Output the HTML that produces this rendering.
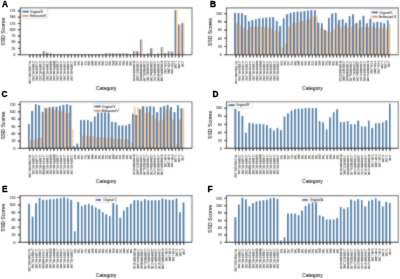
<!DOCTYPE html>
<html><head><meta charset="utf-8"><style>
html,body{margin:0;padding:0;background:#fff;}
body{width:400px;height:279px;overflow:hidden;font-family:"Liberation Sans", sans-serif;}
svg{display:block;font-family:"Liberation Sans", sans-serif;}
</style></head><body>
<svg width="400" height="279" viewBox="0 0 400 279">
<rect width="400" height="279" fill="#fff"/>
<defs><filter id="sf" filterUnits="userSpaceOnUse" x="0" y="0" width="400" height="279"><feConvolveMatrix order="3" kernelMatrix="1 3 1 3 16 3 1 3 1" edgeMode="duplicate" preserveAlpha="true"/></filter></defs>
<g filter="url(#sf)">
<rect width="400" height="279" fill="#fff"/>
<g><rect x="29.04" y="53.95" width="1.35" height="0.75" fill="#4b87bd"/><rect x="29.04" y="53.95" width="0.6" height="0.75" fill="#1f4b74"/><rect x="30.39" y="53.95" width="1.35" height="0.75" fill="#f6c793"/><rect x="32.52" y="53.95" width="1.35" height="0.75" fill="#4b87bd"/><rect x="32.52" y="53.95" width="0.6" height="0.75" fill="#1f4b74"/><rect x="33.87" y="53.95" width="1.35" height="0.75" fill="#f6c793"/><rect x="35.99" y="53.95" width="1.35" height="0.75" fill="#4b87bd"/><rect x="35.99" y="53.95" width="0.6" height="0.75" fill="#1f4b74"/><rect x="37.34" y="53.95" width="1.35" height="0.75" fill="#f6c793"/><rect x="39.46" y="53.95" width="1.35" height="0.75" fill="#4b87bd"/><rect x="39.46" y="53.95" width="0.6" height="0.75" fill="#1f4b74"/><rect x="40.81" y="53.95" width="1.35" height="0.75" fill="#f6c793"/><rect x="42.93" y="50.95" width="1.35" height="3.75" fill="#4b87bd"/><rect x="42.93" y="50.95" width="0.6" height="3.75" fill="#1f4b74"/><rect x="44.28" y="50.95" width="1.35" height="3.75" fill="#f6c793"/><rect x="46.40" y="52.70" width="1.35" height="2.00" fill="#4b87bd"/><rect x="46.40" y="52.70" width="0.6" height="2.00" fill="#1f4b74"/><rect x="47.75" y="52.70" width="1.35" height="2.00" fill="#f6c793"/><rect x="49.87" y="53.45" width="1.35" height="1.25" fill="#4b87bd"/><rect x="49.87" y="53.45" width="0.6" height="1.25" fill="#1f4b74"/><rect x="51.22" y="53.45" width="1.35" height="1.25" fill="#f6c793"/><rect x="53.34" y="53.95" width="1.35" height="0.75" fill="#4b87bd"/><rect x="53.34" y="53.95" width="0.6" height="0.75" fill="#1f4b74"/><rect x="54.69" y="53.95" width="1.35" height="0.75" fill="#f6c793"/><rect x="56.81" y="53.95" width="1.35" height="0.75" fill="#4b87bd"/><rect x="56.81" y="53.95" width="0.6" height="0.75" fill="#1f4b74"/><rect x="58.16" y="53.95" width="1.35" height="0.75" fill="#f6c793"/><rect x="60.28" y="53.95" width="1.35" height="0.75" fill="#4b87bd"/><rect x="60.28" y="53.95" width="0.6" height="0.75" fill="#1f4b74"/><rect x="61.63" y="53.95" width="1.35" height="0.75" fill="#f6c793"/><rect x="63.75" y="53.95" width="1.35" height="0.75" fill="#4b87bd"/><rect x="63.75" y="53.95" width="0.6" height="0.75" fill="#1f4b74"/><rect x="65.10" y="53.95" width="1.35" height="0.75" fill="#f6c793"/><rect x="67.22" y="53.95" width="1.35" height="0.75" fill="#4b87bd"/><rect x="67.22" y="53.95" width="0.6" height="0.75" fill="#1f4b74"/><rect x="68.57" y="53.95" width="1.35" height="0.75" fill="#f6c793"/><rect x="70.69" y="53.95" width="1.35" height="0.75" fill="#4b87bd"/><rect x="70.69" y="53.95" width="0.6" height="0.75" fill="#1f4b74"/><rect x="72.04" y="53.95" width="1.35" height="0.75" fill="#f6c793"/><rect x="74.16" y="53.95" width="1.35" height="0.75" fill="#4b87bd"/><rect x="74.16" y="53.95" width="0.6" height="0.75" fill="#1f4b74"/><rect x="75.51" y="53.95" width="1.35" height="0.75" fill="#f6c793"/><rect x="77.63" y="53.95" width="1.35" height="0.75" fill="#4b87bd"/><rect x="77.63" y="53.95" width="0.6" height="0.75" fill="#1f4b74"/><rect x="78.98" y="53.95" width="1.35" height="0.75" fill="#f6c793"/><rect x="81.11" y="53.95" width="1.35" height="0.75" fill="#4b87bd"/><rect x="81.11" y="53.95" width="0.6" height="0.75" fill="#1f4b74"/><rect x="82.46" y="53.95" width="1.35" height="0.75" fill="#f6c793"/><rect x="84.58" y="53.95" width="1.35" height="0.75" fill="#4b87bd"/><rect x="84.58" y="53.95" width="0.6" height="0.75" fill="#1f4b74"/><rect x="85.93" y="53.95" width="1.35" height="0.75" fill="#f6c793"/><rect x="88.05" y="53.95" width="1.35" height="0.75" fill="#4b87bd"/><rect x="88.05" y="53.95" width="0.6" height="0.75" fill="#1f4b74"/><rect x="89.40" y="53.95" width="1.35" height="0.75" fill="#f6c793"/><rect x="91.52" y="53.95" width="1.35" height="0.75" fill="#4b87bd"/><rect x="91.52" y="53.95" width="0.6" height="0.75" fill="#1f4b74"/><rect x="92.87" y="53.95" width="1.35" height="0.75" fill="#f6c793"/><rect x="94.99" y="53.95" width="1.35" height="0.75" fill="#4b87bd"/><rect x="94.99" y="53.95" width="0.6" height="0.75" fill="#1f4b74"/><rect x="96.34" y="53.95" width="1.35" height="0.75" fill="#f6c793"/><rect x="98.46" y="53.95" width="1.35" height="0.75" fill="#4b87bd"/><rect x="98.46" y="53.95" width="0.6" height="0.75" fill="#1f4b74"/><rect x="99.81" y="53.95" width="1.35" height="0.75" fill="#f6c793"/><rect x="101.93" y="53.95" width="1.35" height="0.75" fill="#4b87bd"/><rect x="101.93" y="53.95" width="0.6" height="0.75" fill="#1f4b74"/><rect x="103.28" y="53.95" width="1.35" height="0.75" fill="#f6c793"/><rect x="105.40" y="53.45" width="1.35" height="1.25" fill="#4b87bd"/><rect x="105.40" y="53.45" width="0.6" height="1.25" fill="#1f4b74"/><rect x="106.75" y="53.45" width="1.35" height="1.25" fill="#f6c793"/><rect x="108.87" y="53.45" width="1.35" height="1.25" fill="#4b87bd"/><rect x="108.87" y="53.45" width="0.6" height="1.25" fill="#1f4b74"/><rect x="110.22" y="53.45" width="1.35" height="1.25" fill="#f6c793"/><rect x="112.34" y="53.45" width="1.35" height="1.25" fill="#4b87bd"/><rect x="112.34" y="53.45" width="0.6" height="1.25" fill="#1f4b74"/><rect x="113.69" y="53.45" width="1.35" height="1.25" fill="#f6c793"/><rect x="115.81" y="53.45" width="1.35" height="1.25" fill="#4b87bd"/><rect x="115.81" y="53.45" width="0.6" height="1.25" fill="#1f4b74"/><rect x="117.16" y="53.45" width="1.35" height="1.25" fill="#f6c793"/><rect x="119.28" y="53.45" width="1.35" height="1.25" fill="#4b87bd"/><rect x="119.28" y="53.45" width="0.6" height="1.25" fill="#1f4b74"/><rect x="120.63" y="53.45" width="1.35" height="1.25" fill="#f6c793"/><rect x="122.75" y="53.45" width="1.35" height="1.25" fill="#4b87bd"/><rect x="122.75" y="53.45" width="0.6" height="1.25" fill="#1f4b74"/><rect x="124.10" y="53.45" width="1.35" height="1.25" fill="#f6c793"/><rect x="126.22" y="53.45" width="1.35" height="1.25" fill="#4b87bd"/><rect x="126.22" y="53.45" width="0.6" height="1.25" fill="#1f4b74"/><rect x="127.57" y="53.45" width="1.35" height="1.25" fill="#f6c793"/><rect x="129.69" y="53.95" width="1.35" height="0.75" fill="#4b87bd"/><rect x="129.69" y="53.95" width="0.6" height="0.75" fill="#1f4b74"/><rect x="131.04" y="53.95" width="1.35" height="0.75" fill="#f6c793"/><rect x="133.17" y="50.95" width="1.35" height="3.75" fill="#4b87bd"/><rect x="133.17" y="50.95" width="0.6" height="3.75" fill="#1f4b74"/><rect x="134.52" y="50.95" width="1.35" height="3.75" fill="#f6c793"/><rect x="136.64" y="51.20" width="1.35" height="3.50" fill="#4b87bd"/><rect x="136.64" y="51.20" width="0.6" height="3.50" fill="#1f4b74"/><rect x="137.99" y="51.20" width="1.35" height="3.50" fill="#f6c793"/><rect x="140.11" y="39.70" width="1.35" height="15.00" fill="#4b87bd"/><rect x="140.11" y="39.70" width="0.6" height="15.00" fill="#1f4b74"/><rect x="141.46" y="39.70" width="1.35" height="15.00" fill="#f6c793"/><rect x="143.58" y="53.95" width="1.35" height="0.75" fill="#4b87bd"/><rect x="143.58" y="53.95" width="0.6" height="0.75" fill="#1f4b74"/><rect x="144.93" y="53.95" width="1.35" height="0.75" fill="#f6c793"/><rect x="147.05" y="53.20" width="1.35" height="1.50" fill="#4b87bd"/><rect x="147.05" y="53.20" width="0.6" height="1.50" fill="#1f4b74"/><rect x="148.40" y="53.20" width="1.35" height="1.50" fill="#f6c793"/><rect x="150.52" y="48.20" width="1.35" height="6.50" fill="#4b87bd"/><rect x="150.52" y="48.20" width="0.6" height="6.50" fill="#1f4b74"/><rect x="151.87" y="48.20" width="1.35" height="6.50" fill="#f6c793"/><rect x="153.99" y="53.95" width="1.35" height="0.75" fill="#4b87bd"/><rect x="153.99" y="53.95" width="0.6" height="0.75" fill="#1f4b74"/><rect x="155.34" y="53.95" width="1.35" height="0.75" fill="#f6c793"/><rect x="157.46" y="53.45" width="1.35" height="1.25" fill="#4b87bd"/><rect x="157.46" y="53.45" width="0.6" height="1.25" fill="#1f4b74"/><rect x="158.81" y="53.45" width="1.35" height="1.25" fill="#f6c793"/><rect x="160.93" y="47.20" width="1.35" height="7.50" fill="#4b87bd"/><rect x="160.93" y="47.20" width="0.6" height="7.50" fill="#1f4b74"/><rect x="162.28" y="47.20" width="1.35" height="7.50" fill="#f6c793"/><rect x="164.40" y="53.20" width="1.35" height="1.50" fill="#4b87bd"/><rect x="164.40" y="53.20" width="0.6" height="1.50" fill="#1f4b74"/><rect x="165.75" y="53.20" width="1.35" height="1.50" fill="#f6c793"/><rect x="167.87" y="51.20" width="1.35" height="3.50" fill="#4b87bd"/><rect x="167.87" y="51.20" width="0.6" height="3.50" fill="#1f4b74"/><rect x="169.22" y="51.20" width="1.35" height="3.50" fill="#f6c793"/><rect x="171.34" y="51.70" width="1.35" height="3.00" fill="#4b87bd"/><rect x="171.34" y="51.70" width="0.6" height="3.00" fill="#1f4b74"/><rect x="172.69" y="51.70" width="1.35" height="3.00" fill="#f6c793"/><rect x="174.81" y="10.20" width="1.35" height="44.50" fill="#4b87bd"/><rect x="174.81" y="10.20" width="0.6" height="44.50" fill="#1f4b74"/><rect x="176.16" y="10.20" width="1.35" height="44.50" fill="#f6c793"/><rect x="178.28" y="24.45" width="1.35" height="30.25" fill="#4b87bd"/><rect x="178.28" y="24.45" width="0.6" height="30.25" fill="#1f4b74"/><rect x="179.63" y="24.45" width="1.35" height="30.25" fill="#f6c793"/><rect x="181.76" y="22.95" width="1.35" height="31.75" fill="#4b87bd"/><rect x="181.76" y="22.95" width="0.6" height="31.75" fill="#1f4b74"/><rect x="183.11" y="22.95" width="1.35" height="31.75" fill="#f6c793"/><path d="M20.20,7.90H192.00V54.70" fill="none" stroke="#777" stroke-width="1.1"/><path d="M20.20,7.70V54.70H192.00" fill="none" stroke="#333" stroke-width="1.1"/><line x1="17.80" y1="54.70" x2="20.20" y2="54.70" stroke="#000" stroke-width="1.0"/><text x="15.30" y="55.90" font-size="3.35" text-anchor="end" fill="#000" stroke="#000" stroke-width="0.05">0</text><line x1="17.80" y1="48.45" x2="20.20" y2="48.45" stroke="#000" stroke-width="1.0"/><text x="15.30" y="49.65" font-size="3.35" text-anchor="end" fill="#000" stroke="#000" stroke-width="0.05">25</text><line x1="17.80" y1="42.20" x2="20.20" y2="42.20" stroke="#000" stroke-width="1.0"/><text x="15.30" y="43.40" font-size="3.35" text-anchor="end" fill="#000" stroke="#000" stroke-width="0.05">50</text><line x1="17.80" y1="35.95" x2="20.20" y2="35.95" stroke="#000" stroke-width="1.0"/><text x="15.30" y="37.15" font-size="3.35" text-anchor="end" fill="#000" stroke="#000" stroke-width="0.05">75</text><line x1="17.80" y1="29.70" x2="20.20" y2="29.70" stroke="#000" stroke-width="1.0"/><text x="15.30" y="30.90" font-size="3.35" text-anchor="end" fill="#000" stroke="#000" stroke-width="0.05">100</text><line x1="17.80" y1="23.45" x2="20.20" y2="23.45" stroke="#000" stroke-width="1.0"/><text x="15.30" y="24.65" font-size="3.35" text-anchor="end" fill="#000" stroke="#000" stroke-width="0.05">125</text><line x1="17.80" y1="17.20" x2="20.20" y2="17.20" stroke="#000" stroke-width="1.0"/><text x="15.30" y="18.40" font-size="3.35" text-anchor="end" fill="#000" stroke="#000" stroke-width="0.05">150</text><line x1="17.80" y1="10.95" x2="20.20" y2="10.95" stroke="#000" stroke-width="1.0"/><text x="15.30" y="12.15" font-size="3.35" text-anchor="end" fill="#000" stroke="#000" stroke-width="0.05">175</text><line x1="29.74" y1="54.70" x2="29.74" y2="57.40" stroke="#000" stroke-width="1.1"/><text transform="translate(30.84,60.70) rotate(-89.9)" font-size="2.85" text-anchor="end" fill="#000" stroke="#000" stroke-width="0.07">2017102-5831741</text><line x1="33.22" y1="54.70" x2="33.22" y2="57.40" stroke="#000" stroke-width="1.1"/><text transform="translate(34.32,60.70) rotate(-89.9)" font-size="2.85" text-anchor="end" fill="#000" stroke="#000" stroke-width="0.07">991710-658317</text><line x1="36.69" y1="54.70" x2="36.69" y2="57.40" stroke="#000" stroke-width="1.1"/><text transform="translate(37.79,60.70) rotate(-89.9)" font-size="2.85" text-anchor="end" fill="#000" stroke="#000" stroke-width="0.07">201710-658717</text><line x1="40.16" y1="54.70" x2="40.16" y2="57.40" stroke="#000" stroke-width="1.1"/><text transform="translate(41.26,60.70) rotate(-89.9)" font-size="2.85" text-anchor="end" fill="#000" stroke="#000" stroke-width="0.07">231710-658317</text><line x1="43.63" y1="54.70" x2="43.63" y2="57.40" stroke="#000" stroke-width="1.1"/><text transform="translate(44.73,60.70) rotate(-89.9)" font-size="2.85" text-anchor="end" fill="#000" stroke="#000" stroke-width="0.07">601950-651417</text><line x1="47.10" y1="54.70" x2="47.10" y2="57.40" stroke="#000" stroke-width="1.1"/><text transform="translate(48.20,60.70) rotate(-89.9)" font-size="2.85" text-anchor="end" fill="#000" stroke="#000" stroke-width="0.07">201710-658317</text><line x1="50.57" y1="54.70" x2="50.57" y2="57.40" stroke="#000" stroke-width="1.1"/><text transform="translate(51.67,60.70) rotate(-89.9)" font-size="2.85" text-anchor="end" fill="#000" stroke="#000" stroke-width="0.07">201710-664362</text><line x1="54.04" y1="54.70" x2="54.04" y2="57.40" stroke="#000" stroke-width="1.1"/><text transform="translate(55.14,60.70) rotate(-89.9)" font-size="2.85" text-anchor="end" fill="#000" stroke="#000" stroke-width="0.07">201720-658380</text><line x1="57.51" y1="54.70" x2="57.51" y2="57.40" stroke="#000" stroke-width="1.1"/><text transform="translate(58.61,60.70) rotate(-89.9)" font-size="2.85" text-anchor="end" fill="#000" stroke="#000" stroke-width="0.07">281710-658317</text><line x1="60.98" y1="54.70" x2="60.98" y2="57.40" stroke="#000" stroke-width="1.1"/><text transform="translate(62.08,60.70) rotate(-89.9)" font-size="2.85" text-anchor="end" fill="#000" stroke="#000" stroke-width="0.07">201719-659317</text><line x1="64.45" y1="54.70" x2="64.45" y2="57.40" stroke="#000" stroke-width="1.1"/><text transform="translate(65.55,60.70) rotate(-89.9)" font-size="2.85" text-anchor="end" fill="#000" stroke="#000" stroke-width="0.07">201710-658517</text><line x1="67.92" y1="54.70" x2="67.92" y2="57.40" stroke="#000" stroke-width="1.1"/><text transform="translate(69.02,60.70) rotate(-89.9)" font-size="2.85" text-anchor="end" fill="#000" stroke="#000" stroke-width="0.07">201710-688317</text><line x1="71.39" y1="54.70" x2="71.39" y2="57.40" stroke="#000" stroke-width="1.1"/><text transform="translate(72.49,60.70) rotate(-89.9)" font-size="2.85" text-anchor="end" fill="#000" stroke="#000" stroke-width="0.07">361710-658317</text><line x1="74.86" y1="54.70" x2="74.86" y2="57.40" stroke="#000" stroke-width="1.1"/><text transform="translate(75.96,60.70) rotate(-89.9)" font-size="2.85" text-anchor="end" fill="#000" stroke="#000" stroke-width="0.07">551</text><line x1="78.33" y1="54.70" x2="78.33" y2="57.40" stroke="#000" stroke-width="1.1"/><text transform="translate(79.43,60.70) rotate(-89.9)" font-size="2.85" text-anchor="end" fill="#000" stroke="#000" stroke-width="0.07">201</text><line x1="81.81" y1="54.70" x2="81.81" y2="57.40" stroke="#000" stroke-width="1.1"/><text transform="translate(82.91,60.70) rotate(-89.9)" font-size="2.85" text-anchor="end" fill="#000" stroke="#000" stroke-width="0.07">297</text><line x1="85.28" y1="54.70" x2="85.28" y2="57.40" stroke="#000" stroke-width="1.1"/><text transform="translate(86.38,60.70) rotate(-89.9)" font-size="2.85" text-anchor="end" fill="#000" stroke="#000" stroke-width="0.07">511</text><line x1="88.75" y1="54.70" x2="88.75" y2="57.40" stroke="#000" stroke-width="1.1"/><text transform="translate(89.85,60.70) rotate(-89.9)" font-size="2.85" text-anchor="end" fill="#000" stroke="#000" stroke-width="0.07">301</text><line x1="92.22" y1="54.70" x2="92.22" y2="57.40" stroke="#000" stroke-width="1.1"/><text transform="translate(93.32,60.70) rotate(-89.9)" font-size="2.85" text-anchor="end" fill="#000" stroke="#000" stroke-width="0.07">506</text><line x1="95.69" y1="54.70" x2="95.69" y2="57.40" stroke="#000" stroke-width="1.1"/><text transform="translate(96.79,60.70) rotate(-89.9)" font-size="2.85" text-anchor="end" fill="#000" stroke="#000" stroke-width="0.07">201</text><line x1="99.16" y1="54.70" x2="99.16" y2="57.40" stroke="#000" stroke-width="1.1"/><text transform="translate(100.26,60.70) rotate(-89.9)" font-size="2.85" text-anchor="end" fill="#000" stroke="#000" stroke-width="0.07">201</text><line x1="102.63" y1="54.70" x2="102.63" y2="57.40" stroke="#000" stroke-width="1.1"/><text transform="translate(103.73,60.70) rotate(-89.9)" font-size="2.85" text-anchor="end" fill="#000" stroke="#000" stroke-width="0.07">201</text><line x1="106.10" y1="54.70" x2="106.10" y2="57.40" stroke="#000" stroke-width="1.1"/><text transform="translate(107.20,60.70) rotate(-89.9)" font-size="2.85" text-anchor="end" fill="#000" stroke="#000" stroke-width="0.07">221</text><line x1="109.57" y1="54.70" x2="109.57" y2="57.40" stroke="#000" stroke-width="1.1"/><text transform="translate(110.67,60.70) rotate(-89.9)" font-size="2.85" text-anchor="end" fill="#000" stroke="#000" stroke-width="0.07">201</text><line x1="113.04" y1="54.70" x2="113.04" y2="57.40" stroke="#000" stroke-width="1.1"/><text transform="translate(114.14,60.70) rotate(-89.9)" font-size="2.85" text-anchor="end" fill="#000" stroke="#000" stroke-width="0.07">263</text><line x1="116.51" y1="54.70" x2="116.51" y2="57.40" stroke="#000" stroke-width="1.1"/><text transform="translate(117.61,60.70) rotate(-89.9)" font-size="2.85" text-anchor="end" fill="#000" stroke="#000" stroke-width="0.07">301</text><line x1="119.98" y1="54.70" x2="119.98" y2="57.40" stroke="#000" stroke-width="1.1"/><text transform="translate(121.08,60.70) rotate(-89.9)" font-size="2.85" text-anchor="end" fill="#000" stroke="#000" stroke-width="0.07">251</text><line x1="123.45" y1="54.70" x2="123.45" y2="57.40" stroke="#000" stroke-width="1.1"/><text transform="translate(124.55,60.70) rotate(-89.9)" font-size="2.85" text-anchor="end" fill="#000" stroke="#000" stroke-width="0.07">205</text><line x1="126.92" y1="54.70" x2="126.92" y2="57.40" stroke="#000" stroke-width="1.1"/><text transform="translate(128.02,60.70) rotate(-89.9)" font-size="2.85" text-anchor="end" fill="#000" stroke="#000" stroke-width="0.07">981</text><line x1="130.39" y1="54.70" x2="130.39" y2="57.40" stroke="#000" stroke-width="1.1"/><text transform="translate(131.49,60.70) rotate(-89.9)" font-size="2.85" text-anchor="end" fill="#000" stroke="#000" stroke-width="0.07">801</text><line x1="133.87" y1="54.70" x2="133.87" y2="57.40" stroke="#000" stroke-width="1.1"/><text transform="translate(134.97,60.70) rotate(-89.9)" font-size="2.85" text-anchor="end" fill="#000" stroke="#000" stroke-width="0.07">2212102658310</text><line x1="137.34" y1="54.70" x2="137.34" y2="57.40" stroke="#000" stroke-width="1.1"/><text transform="translate(138.44,60.70) rotate(-89.9)" font-size="2.85" text-anchor="end" fill="#000" stroke="#000" stroke-width="0.07">2087112658317</text><line x1="140.81" y1="54.70" x2="140.81" y2="57.40" stroke="#000" stroke-width="1.1"/><text transform="translate(141.91,60.70) rotate(-89.9)" font-size="2.85" text-anchor="end" fill="#000" stroke="#000" stroke-width="0.07">2843202658317</text><line x1="144.28" y1="54.70" x2="144.28" y2="57.40" stroke="#000" stroke-width="1.1"/><text transform="translate(145.38,60.70) rotate(-89.9)" font-size="2.85" text-anchor="end" fill="#000" stroke="#000" stroke-width="0.07">5077623658317</text><line x1="147.75" y1="54.70" x2="147.75" y2="57.40" stroke="#000" stroke-width="1.1"/><text transform="translate(148.85,60.70) rotate(-89.9)" font-size="2.85" text-anchor="end" fill="#000" stroke="#000" stroke-width="0.07">2017102653117</text><line x1="151.22" y1="54.70" x2="151.22" y2="57.40" stroke="#000" stroke-width="1.1"/><text transform="translate(152.32,60.70) rotate(-89.9)" font-size="2.85" text-anchor="end" fill="#000" stroke="#000" stroke-width="0.07">2017402658327</text><line x1="154.69" y1="54.70" x2="154.69" y2="57.40" stroke="#000" stroke-width="1.1"/><text transform="translate(155.79,60.70) rotate(-89.9)" font-size="2.85" text-anchor="end" fill="#000" stroke="#000" stroke-width="0.07">2117102664317</text><line x1="158.16" y1="54.70" x2="158.16" y2="57.40" stroke="#000" stroke-width="1.1"/><text transform="translate(159.26,60.70) rotate(-89.9)" font-size="2.85" text-anchor="end" fill="#000" stroke="#000" stroke-width="0.07">2014102654317</text><line x1="161.63" y1="54.70" x2="161.63" y2="57.40" stroke="#000" stroke-width="1.1"/><text transform="translate(162.73,60.70) rotate(-89.9)" font-size="2.85" text-anchor="end" fill="#000" stroke="#000" stroke-width="0.07">8017102858312</text><line x1="165.10" y1="54.70" x2="165.10" y2="57.40" stroke="#000" stroke-width="1.1"/><text transform="translate(166.20,60.70) rotate(-89.9)" font-size="2.85" text-anchor="end" fill="#000" stroke="#000" stroke-width="0.07">2017-02-5</text><line x1="168.57" y1="54.70" x2="168.57" y2="57.40" stroke="#000" stroke-width="1.1"/><text transform="translate(169.67,60.70) rotate(-89.9)" font-size="2.85" text-anchor="end" fill="#000" stroke="#000" stroke-width="0.07">2087-02-5</text><line x1="172.04" y1="54.70" x2="172.04" y2="57.40" stroke="#000" stroke-width="1.1"/><text transform="translate(173.14,60.70) rotate(-89.9)" font-size="2.85" text-anchor="end" fill="#000" stroke="#000" stroke-width="0.07">2017-82-5</text><line x1="175.51" y1="54.70" x2="175.51" y2="57.40" stroke="#000" stroke-width="1.1"/><text transform="translate(176.61,60.70) rotate(-89.9)" font-size="2.85" text-anchor="end" fill="#000" stroke="#000" stroke-width="0.07">30171</text><line x1="178.98" y1="54.70" x2="178.98" y2="57.40" stroke="#000" stroke-width="1.1"/><text transform="translate(180.08,60.70) rotate(-89.9)" font-size="2.85" text-anchor="end" fill="#000" stroke="#000" stroke-width="0.07">20171</text><line x1="182.46" y1="54.70" x2="182.46" y2="57.40" stroke="#000" stroke-width="1.1"/><text transform="translate(183.56,60.70) rotate(-89.9)" font-size="2.85" text-anchor="end" fill="#000" stroke="#000" stroke-width="0.07">2017</text><text x="106.10" y="89.60" font-size="5.1" text-anchor="middle" fill="#000" stroke="#000" stroke-width="0.08">Category</text><text transform="translate(5.30,31.80) rotate(-90)" font-size="5.15" text-anchor="middle" fill="#000" stroke="#000" stroke-width="0.1">SSD Scores</text><rect x="21.4" y="8.7" width="26.10" height="9.60" fill="#fff" fill-opacity="0.9" stroke="#c8c8c8" stroke-width="0.5" rx="0.6"/><rect x="22.50" y="10.75" width="6.2" height="1.7" fill="#1f5f98"/><text x="29.80" y="12.70" font-size="3.1" fill="#111" stroke="#111" stroke-width="0.05">Original K</text><rect x="22.50" y="14.95" width="6.2" height="1.7" fill="#e58a3c"/><text x="29.80" y="16.90" font-size="3.1" fill="#111" stroke="#111" stroke-width="0.05">Enhanced K</text></g>
<g><rect x="234.31" y="12.87" width="1.74" height="41.83" fill="#4b87bd"/><rect x="234.31" y="12.87" width="0.6" height="41.83" fill="#1f4b74"/><rect x="236.04" y="22.71" width="1.74" height="31.99" fill="#f6c793"/><rect x="237.78" y="13.07" width="1.74" height="41.63" fill="#4b87bd"/><rect x="237.78" y="13.07" width="0.6" height="41.63" fill="#1f4b74"/><rect x="239.52" y="24.76" width="1.74" height="29.94" fill="#f6c793"/><rect x="241.25" y="13.07" width="1.74" height="41.63" fill="#4b87bd"/><rect x="241.25" y="13.07" width="0.6" height="41.63" fill="#1f4b74"/><rect x="242.99" y="27.63" width="1.74" height="27.07" fill="#f6c793"/><rect x="244.72" y="15.04" width="1.74" height="39.66" fill="#4b87bd"/><rect x="244.72" y="15.04" width="0.6" height="39.66" fill="#1f4b74"/><rect x="246.46" y="29.68" width="1.74" height="25.02" fill="#f6c793"/><rect x="248.19" y="21.07" width="1.74" height="33.63" fill="#4b87bd"/><rect x="248.19" y="21.07" width="0.6" height="33.63" fill="#1f4b74"/><rect x="249.93" y="26.81" width="1.74" height="27.89" fill="#f6c793"/><rect x="251.66" y="20.04" width="1.74" height="34.66" fill="#4b87bd"/><rect x="251.66" y="20.04" width="0.6" height="34.66" fill="#1f4b74"/><rect x="253.40" y="26.81" width="1.74" height="27.89" fill="#f6c793"/><rect x="255.13" y="19.22" width="1.74" height="35.48" fill="#4b87bd"/><rect x="255.13" y="19.22" width="0.6" height="35.48" fill="#1f4b74"/><rect x="256.87" y="26.81" width="1.74" height="27.89" fill="#f6c793"/><rect x="258.60" y="18.40" width="1.74" height="36.30" fill="#4b87bd"/><rect x="258.60" y="18.40" width="0.6" height="36.30" fill="#1f4b74"/><rect x="260.34" y="26.81" width="1.74" height="27.89" fill="#f6c793"/><rect x="262.07" y="17.99" width="1.74" height="36.71" fill="#4b87bd"/><rect x="262.07" y="17.99" width="0.6" height="36.71" fill="#1f4b74"/><rect x="263.81" y="27.22" width="1.74" height="27.48" fill="#f6c793"/><rect x="265.55" y="17.58" width="1.74" height="37.12" fill="#4b87bd"/><rect x="265.55" y="17.58" width="0.6" height="37.12" fill="#1f4b74"/><rect x="267.28" y="27.63" width="1.74" height="27.07" fill="#f6c793"/><rect x="269.02" y="17.17" width="1.74" height="37.53" fill="#4b87bd"/><rect x="269.02" y="17.17" width="0.6" height="37.53" fill="#1f4b74"/><rect x="270.75" y="28.45" width="1.74" height="26.25" fill="#f6c793"/><rect x="272.49" y="17.17" width="1.74" height="37.53" fill="#4b87bd"/><rect x="272.49" y="17.17" width="0.6" height="37.53" fill="#1f4b74"/><rect x="274.22" y="30.09" width="1.74" height="24.61" fill="#f6c793"/><rect x="275.96" y="21.07" width="1.74" height="33.63" fill="#4b87bd"/><rect x="275.96" y="21.07" width="0.6" height="33.63" fill="#1f4b74"/><rect x="277.69" y="31.73" width="1.74" height="22.97" fill="#f6c793"/><rect x="279.43" y="25.99" width="1.74" height="28.71" fill="#4b87bd"/><rect x="279.43" y="25.99" width="0.6" height="28.71" fill="#1f4b74"/><rect x="281.16" y="47.73" width="1.74" height="6.97" fill="#f6c793"/><rect x="282.90" y="18.40" width="1.74" height="36.30" fill="#4b87bd"/><rect x="282.90" y="18.40" width="0.6" height="36.30" fill="#1f4b74"/><rect x="284.63" y="43.63" width="1.74" height="11.07" fill="#f6c793"/><rect x="286.37" y="14.10" width="1.74" height="40.60" fill="#4b87bd"/><rect x="286.37" y="14.10" width="0.6" height="40.60" fill="#1f4b74"/><rect x="288.11" y="26.81" width="1.74" height="27.89" fill="#f6c793"/><rect x="289.84" y="12.87" width="1.74" height="41.83" fill="#4b87bd"/><rect x="289.84" y="12.87" width="0.6" height="41.83" fill="#1f4b74"/><rect x="291.58" y="23.53" width="1.74" height="31.17" fill="#f6c793"/><rect x="293.31" y="12.05" width="1.74" height="42.65" fill="#4b87bd"/><rect x="293.31" y="12.05" width="0.6" height="42.65" fill="#1f4b74"/><rect x="295.05" y="22.71" width="1.74" height="31.99" fill="#f6c793"/><rect x="296.78" y="11.64" width="1.74" height="43.06" fill="#4b87bd"/><rect x="296.78" y="11.64" width="0.6" height="43.06" fill="#1f4b74"/><rect x="298.52" y="21.89" width="1.74" height="32.81" fill="#f6c793"/><rect x="300.25" y="11.64" width="1.74" height="43.06" fill="#4b87bd"/><rect x="300.25" y="11.64" width="0.6" height="43.06" fill="#1f4b74"/><rect x="301.99" y="21.07" width="1.74" height="33.63" fill="#f6c793"/><rect x="303.72" y="11.02" width="1.74" height="43.68" fill="#4b87bd"/><rect x="303.72" y="11.02" width="0.6" height="43.68" fill="#1f4b74"/><rect x="305.46" y="19.84" width="1.74" height="34.86" fill="#f6c793"/><rect x="307.19" y="10.61" width="1.74" height="44.09" fill="#4b87bd"/><rect x="307.19" y="10.61" width="0.6" height="44.09" fill="#1f4b74"/><rect x="308.93" y="18.61" width="1.74" height="36.09" fill="#f6c793"/><rect x="310.66" y="10.20" width="1.74" height="44.50" fill="#4b87bd"/><rect x="310.66" y="10.20" width="0.6" height="44.50" fill="#1f4b74"/><rect x="312.40" y="16.56" width="1.74" height="38.14" fill="#f6c793"/><rect x="314.14" y="10.20" width="1.74" height="44.50" fill="#4b87bd"/><rect x="314.14" y="10.20" width="0.6" height="44.50" fill="#1f4b74"/><rect x="315.87" y="16.15" width="1.74" height="38.55" fill="#f6c793"/><rect x="317.61" y="22.71" width="1.74" height="31.99" fill="#4b87bd"/><rect x="317.61" y="22.71" width="0.6" height="31.99" fill="#1f4b74"/><rect x="319.34" y="28.25" width="1.74" height="26.45" fill="#f6c793"/><rect x="321.08" y="23.24" width="1.74" height="31.46" fill="#4b87bd"/><rect x="321.08" y="23.24" width="0.6" height="31.46" fill="#1f4b74"/><rect x="322.81" y="28.86" width="1.74" height="25.84" fill="#f6c793"/><rect x="324.55" y="30.09" width="1.74" height="24.61" fill="#4b87bd"/><rect x="324.55" y="30.09" width="0.6" height="24.61" fill="#1f4b74"/><rect x="326.28" y="30.99" width="1.74" height="23.71" fill="#f6c793"/><rect x="328.02" y="17.79" width="1.74" height="36.91" fill="#4b87bd"/><rect x="328.02" y="17.79" width="0.6" height="36.91" fill="#1f4b74"/><rect x="329.75" y="31.98" width="1.74" height="22.72" fill="#f6c793"/><rect x="331.49" y="13.40" width="1.74" height="41.30" fill="#4b87bd"/><rect x="331.49" y="13.40" width="0.6" height="41.30" fill="#1f4b74"/><rect x="333.22" y="29.27" width="1.74" height="25.43" fill="#f6c793"/><rect x="334.96" y="12.87" width="1.74" height="41.83" fill="#4b87bd"/><rect x="334.96" y="12.87" width="0.6" height="41.83" fill="#1f4b74"/><rect x="336.69" y="23.53" width="1.74" height="31.17" fill="#f6c793"/><rect x="338.43" y="19.84" width="1.74" height="34.86" fill="#4b87bd"/><rect x="338.43" y="19.84" width="0.6" height="34.86" fill="#1f4b74"/><rect x="340.17" y="27.22" width="1.74" height="27.48" fill="#f6c793"/><rect x="341.90" y="19.02" width="1.74" height="35.68" fill="#4b87bd"/><rect x="341.90" y="19.02" width="0.6" height="35.68" fill="#1f4b74"/><rect x="343.64" y="25.58" width="1.74" height="29.12" fill="#f6c793"/><rect x="345.37" y="22.71" width="1.74" height="31.99" fill="#4b87bd"/><rect x="345.37" y="22.71" width="0.6" height="31.99" fill="#1f4b74"/><rect x="347.11" y="27.22" width="1.74" height="27.48" fill="#f6c793"/><rect x="348.84" y="16.15" width="1.74" height="38.55" fill="#4b87bd"/><rect x="348.84" y="16.15" width="0.6" height="38.55" fill="#1f4b74"/><rect x="350.58" y="26.81" width="1.74" height="27.89" fill="#f6c793"/><rect x="352.31" y="14.30" width="1.74" height="40.40" fill="#4b87bd"/><rect x="352.31" y="14.30" width="0.6" height="40.40" fill="#1f4b74"/><rect x="354.05" y="23.94" width="1.74" height="30.76" fill="#f6c793"/><rect x="355.78" y="22.87" width="1.74" height="31.83" fill="#4b87bd"/><rect x="355.78" y="22.87" width="0.6" height="31.83" fill="#1f4b74"/><rect x="357.52" y="28.04" width="1.74" height="26.66" fill="#f6c793"/><rect x="359.25" y="20.09" width="1.74" height="34.61" fill="#4b87bd"/><rect x="359.25" y="20.09" width="0.6" height="34.61" fill="#1f4b74"/><rect x="360.99" y="27.22" width="1.74" height="27.48" fill="#f6c793"/><rect x="362.73" y="15.74" width="1.74" height="38.96" fill="#4b87bd"/><rect x="362.73" y="15.74" width="0.6" height="38.96" fill="#1f4b74"/><rect x="364.46" y="26.81" width="1.74" height="27.89" fill="#f6c793"/><rect x="366.20" y="23.28" width="1.74" height="31.42" fill="#4b87bd"/><rect x="366.20" y="23.28" width="0.6" height="31.42" fill="#1f4b74"/><rect x="367.93" y="27.22" width="1.74" height="27.48" fill="#f6c793"/><rect x="369.67" y="18.77" width="1.74" height="35.93" fill="#4b87bd"/><rect x="369.67" y="18.77" width="0.6" height="35.93" fill="#1f4b74"/><rect x="371.40" y="26.40" width="1.74" height="28.30" fill="#f6c793"/><rect x="373.14" y="22.59" width="1.74" height="32.11" fill="#4b87bd"/><rect x="373.14" y="22.59" width="0.6" height="32.11" fill="#1f4b74"/><rect x="374.87" y="28.04" width="1.74" height="26.66" fill="#f6c793"/><rect x="376.61" y="21.81" width="1.74" height="32.89" fill="#4b87bd"/><rect x="376.61" y="21.81" width="0.6" height="32.89" fill="#1f4b74"/><rect x="378.34" y="28.04" width="1.74" height="26.66" fill="#f6c793"/><rect x="380.08" y="22.38" width="1.74" height="32.32" fill="#4b87bd"/><rect x="380.08" y="22.38" width="0.6" height="32.32" fill="#1f4b74"/><rect x="381.81" y="28.04" width="1.74" height="26.66" fill="#f6c793"/><rect x="383.55" y="23.28" width="1.74" height="31.42" fill="#4b87bd"/><rect x="383.55" y="23.28" width="0.6" height="31.42" fill="#1f4b74"/><rect x="385.28" y="28.45" width="1.74" height="26.25" fill="#f6c793"/><rect x="387.02" y="20.29" width="1.74" height="34.41" fill="#4b87bd"/><rect x="387.02" y="20.29" width="0.6" height="34.41" fill="#1f4b74"/><rect x="388.76" y="23.94" width="1.74" height="30.76" fill="#f6c793"/><path d="M226.50,7.90H398.30V54.70" fill="none" stroke="#777" stroke-width="1.1"/><path d="M226.50,7.70V54.70H398.30" fill="none" stroke="#333" stroke-width="1.1"/><line x1="224.10" y1="54.70" x2="226.50" y2="54.70" stroke="#000" stroke-width="1.0"/><text x="221.60" y="55.90" font-size="3.35" text-anchor="end" fill="#000" stroke="#000" stroke-width="0.05">0</text><line x1="224.10" y1="46.50" x2="226.50" y2="46.50" stroke="#000" stroke-width="1.0"/><text x="221.60" y="47.70" font-size="3.35" text-anchor="end" fill="#000" stroke="#000" stroke-width="0.05">20</text><line x1="224.10" y1="38.30" x2="226.50" y2="38.30" stroke="#000" stroke-width="1.0"/><text x="221.60" y="39.50" font-size="3.35" text-anchor="end" fill="#000" stroke="#000" stroke-width="0.05">40</text><line x1="224.10" y1="30.09" x2="226.50" y2="30.09" stroke="#000" stroke-width="1.0"/><text x="221.60" y="31.29" font-size="3.35" text-anchor="end" fill="#000" stroke="#000" stroke-width="0.05">60</text><line x1="224.10" y1="21.89" x2="226.50" y2="21.89" stroke="#000" stroke-width="1.0"/><text x="221.60" y="23.09" font-size="3.35" text-anchor="end" fill="#000" stroke="#000" stroke-width="0.05">80</text><line x1="224.10" y1="13.69" x2="226.50" y2="13.69" stroke="#000" stroke-width="1.0"/><text x="221.60" y="14.89" font-size="3.35" text-anchor="end" fill="#000" stroke="#000" stroke-width="0.05">100</text><line x1="236.04" y1="54.70" x2="236.04" y2="57.40" stroke="#000" stroke-width="1.1"/><text transform="translate(237.14,60.70) rotate(-89.9)" font-size="2.85" text-anchor="end" fill="#000" stroke="#000" stroke-width="0.07">2017102-5831741</text><line x1="239.52" y1="54.70" x2="239.52" y2="57.40" stroke="#000" stroke-width="1.1"/><text transform="translate(240.62,60.70) rotate(-89.9)" font-size="2.85" text-anchor="end" fill="#000" stroke="#000" stroke-width="0.07">991710-658317</text><line x1="242.99" y1="54.70" x2="242.99" y2="57.40" stroke="#000" stroke-width="1.1"/><text transform="translate(244.09,60.70) rotate(-89.9)" font-size="2.85" text-anchor="end" fill="#000" stroke="#000" stroke-width="0.07">201710-658717</text><line x1="246.46" y1="54.70" x2="246.46" y2="57.40" stroke="#000" stroke-width="1.1"/><text transform="translate(247.56,60.70) rotate(-89.9)" font-size="2.85" text-anchor="end" fill="#000" stroke="#000" stroke-width="0.07">231710-658317</text><line x1="249.93" y1="54.70" x2="249.93" y2="57.40" stroke="#000" stroke-width="1.1"/><text transform="translate(251.03,60.70) rotate(-89.9)" font-size="2.85" text-anchor="end" fill="#000" stroke="#000" stroke-width="0.07">601950-651417</text><line x1="253.40" y1="54.70" x2="253.40" y2="57.40" stroke="#000" stroke-width="1.1"/><text transform="translate(254.50,60.70) rotate(-89.9)" font-size="2.85" text-anchor="end" fill="#000" stroke="#000" stroke-width="0.07">201710-658317</text><line x1="256.87" y1="54.70" x2="256.87" y2="57.40" stroke="#000" stroke-width="1.1"/><text transform="translate(257.97,60.70) rotate(-89.9)" font-size="2.85" text-anchor="end" fill="#000" stroke="#000" stroke-width="0.07">201710-664362</text><line x1="260.34" y1="54.70" x2="260.34" y2="57.40" stroke="#000" stroke-width="1.1"/><text transform="translate(261.44,60.70) rotate(-89.9)" font-size="2.85" text-anchor="end" fill="#000" stroke="#000" stroke-width="0.07">201720-658380</text><line x1="263.81" y1="54.70" x2="263.81" y2="57.40" stroke="#000" stroke-width="1.1"/><text transform="translate(264.91,60.70) rotate(-89.9)" font-size="2.85" text-anchor="end" fill="#000" stroke="#000" stroke-width="0.07">281710-658317</text><line x1="267.28" y1="54.70" x2="267.28" y2="57.40" stroke="#000" stroke-width="1.1"/><text transform="translate(268.38,60.70) rotate(-89.9)" font-size="2.85" text-anchor="end" fill="#000" stroke="#000" stroke-width="0.07">201719-659317</text><line x1="270.75" y1="54.70" x2="270.75" y2="57.40" stroke="#000" stroke-width="1.1"/><text transform="translate(271.85,60.70) rotate(-89.9)" font-size="2.85" text-anchor="end" fill="#000" stroke="#000" stroke-width="0.07">201710-658517</text><line x1="274.22" y1="54.70" x2="274.22" y2="57.40" stroke="#000" stroke-width="1.1"/><text transform="translate(275.32,60.70) rotate(-89.9)" font-size="2.85" text-anchor="end" fill="#000" stroke="#000" stroke-width="0.07">201710-688317</text><line x1="277.69" y1="54.70" x2="277.69" y2="57.40" stroke="#000" stroke-width="1.1"/><text transform="translate(278.79,60.70) rotate(-89.9)" font-size="2.85" text-anchor="end" fill="#000" stroke="#000" stroke-width="0.07">361710-658317</text><line x1="281.16" y1="54.70" x2="281.16" y2="57.40" stroke="#000" stroke-width="1.1"/><text transform="translate(282.26,60.70) rotate(-89.9)" font-size="2.85" text-anchor="end" fill="#000" stroke="#000" stroke-width="0.07">551</text><line x1="284.63" y1="54.70" x2="284.63" y2="57.40" stroke="#000" stroke-width="1.1"/><text transform="translate(285.73,60.70) rotate(-89.9)" font-size="2.85" text-anchor="end" fill="#000" stroke="#000" stroke-width="0.07">201</text><line x1="288.11" y1="54.70" x2="288.11" y2="57.40" stroke="#000" stroke-width="1.1"/><text transform="translate(289.21,60.70) rotate(-89.9)" font-size="2.85" text-anchor="end" fill="#000" stroke="#000" stroke-width="0.07">297</text><line x1="291.58" y1="54.70" x2="291.58" y2="57.40" stroke="#000" stroke-width="1.1"/><text transform="translate(292.68,60.70) rotate(-89.9)" font-size="2.85" text-anchor="end" fill="#000" stroke="#000" stroke-width="0.07">511</text><line x1="295.05" y1="54.70" x2="295.05" y2="57.40" stroke="#000" stroke-width="1.1"/><text transform="translate(296.15,60.70) rotate(-89.9)" font-size="2.85" text-anchor="end" fill="#000" stroke="#000" stroke-width="0.07">301</text><line x1="298.52" y1="54.70" x2="298.52" y2="57.40" stroke="#000" stroke-width="1.1"/><text transform="translate(299.62,60.70) rotate(-89.9)" font-size="2.85" text-anchor="end" fill="#000" stroke="#000" stroke-width="0.07">506</text><line x1="301.99" y1="54.70" x2="301.99" y2="57.40" stroke="#000" stroke-width="1.1"/><text transform="translate(303.09,60.70) rotate(-89.9)" font-size="2.85" text-anchor="end" fill="#000" stroke="#000" stroke-width="0.07">201</text><line x1="305.46" y1="54.70" x2="305.46" y2="57.40" stroke="#000" stroke-width="1.1"/><text transform="translate(306.56,60.70) rotate(-89.9)" font-size="2.85" text-anchor="end" fill="#000" stroke="#000" stroke-width="0.07">201</text><line x1="308.93" y1="54.70" x2="308.93" y2="57.40" stroke="#000" stroke-width="1.1"/><text transform="translate(310.03,60.70) rotate(-89.9)" font-size="2.85" text-anchor="end" fill="#000" stroke="#000" stroke-width="0.07">201</text><line x1="312.40" y1="54.70" x2="312.40" y2="57.40" stroke="#000" stroke-width="1.1"/><text transform="translate(313.50,60.70) rotate(-89.9)" font-size="2.85" text-anchor="end" fill="#000" stroke="#000" stroke-width="0.07">221</text><line x1="315.87" y1="54.70" x2="315.87" y2="57.40" stroke="#000" stroke-width="1.1"/><text transform="translate(316.97,60.70) rotate(-89.9)" font-size="2.85" text-anchor="end" fill="#000" stroke="#000" stroke-width="0.07">201</text><line x1="319.34" y1="54.70" x2="319.34" y2="57.40" stroke="#000" stroke-width="1.1"/><text transform="translate(320.44,60.70) rotate(-89.9)" font-size="2.85" text-anchor="end" fill="#000" stroke="#000" stroke-width="0.07">263</text><line x1="322.81" y1="54.70" x2="322.81" y2="57.40" stroke="#000" stroke-width="1.1"/><text transform="translate(323.91,60.70) rotate(-89.9)" font-size="2.85" text-anchor="end" fill="#000" stroke="#000" stroke-width="0.07">301</text><line x1="326.28" y1="54.70" x2="326.28" y2="57.40" stroke="#000" stroke-width="1.1"/><text transform="translate(327.38,60.70) rotate(-89.9)" font-size="2.85" text-anchor="end" fill="#000" stroke="#000" stroke-width="0.07">251</text><line x1="329.75" y1="54.70" x2="329.75" y2="57.40" stroke="#000" stroke-width="1.1"/><text transform="translate(330.85,60.70) rotate(-89.9)" font-size="2.85" text-anchor="end" fill="#000" stroke="#000" stroke-width="0.07">205</text><line x1="333.22" y1="54.70" x2="333.22" y2="57.40" stroke="#000" stroke-width="1.1"/><text transform="translate(334.32,60.70) rotate(-89.9)" font-size="2.85" text-anchor="end" fill="#000" stroke="#000" stroke-width="0.07">981</text><line x1="336.69" y1="54.70" x2="336.69" y2="57.40" stroke="#000" stroke-width="1.1"/><text transform="translate(337.79,60.70) rotate(-89.9)" font-size="2.85" text-anchor="end" fill="#000" stroke="#000" stroke-width="0.07">801</text><line x1="340.17" y1="54.70" x2="340.17" y2="57.40" stroke="#000" stroke-width="1.1"/><text transform="translate(341.27,60.70) rotate(-89.9)" font-size="2.85" text-anchor="end" fill="#000" stroke="#000" stroke-width="0.07">2212102658310</text><line x1="343.64" y1="54.70" x2="343.64" y2="57.40" stroke="#000" stroke-width="1.1"/><text transform="translate(344.74,60.70) rotate(-89.9)" font-size="2.85" text-anchor="end" fill="#000" stroke="#000" stroke-width="0.07">2087112658317</text><line x1="347.11" y1="54.70" x2="347.11" y2="57.40" stroke="#000" stroke-width="1.1"/><text transform="translate(348.21,60.70) rotate(-89.9)" font-size="2.85" text-anchor="end" fill="#000" stroke="#000" stroke-width="0.07">2843202658317</text><line x1="350.58" y1="54.70" x2="350.58" y2="57.40" stroke="#000" stroke-width="1.1"/><text transform="translate(351.68,60.70) rotate(-89.9)" font-size="2.85" text-anchor="end" fill="#000" stroke="#000" stroke-width="0.07">5077623658317</text><line x1="354.05" y1="54.70" x2="354.05" y2="57.40" stroke="#000" stroke-width="1.1"/><text transform="translate(355.15,60.70) rotate(-89.9)" font-size="2.85" text-anchor="end" fill="#000" stroke="#000" stroke-width="0.07">2017102653117</text><line x1="357.52" y1="54.70" x2="357.52" y2="57.40" stroke="#000" stroke-width="1.1"/><text transform="translate(358.62,60.70) rotate(-89.9)" font-size="2.85" text-anchor="end" fill="#000" stroke="#000" stroke-width="0.07">2017402658327</text><line x1="360.99" y1="54.70" x2="360.99" y2="57.40" stroke="#000" stroke-width="1.1"/><text transform="translate(362.09,60.70) rotate(-89.9)" font-size="2.85" text-anchor="end" fill="#000" stroke="#000" stroke-width="0.07">2117102664317</text><line x1="364.46" y1="54.70" x2="364.46" y2="57.40" stroke="#000" stroke-width="1.1"/><text transform="translate(365.56,60.70) rotate(-89.9)" font-size="2.85" text-anchor="end" fill="#000" stroke="#000" stroke-width="0.07">2014102654317</text><line x1="367.93" y1="54.70" x2="367.93" y2="57.40" stroke="#000" stroke-width="1.1"/><text transform="translate(369.03,60.70) rotate(-89.9)" font-size="2.85" text-anchor="end" fill="#000" stroke="#000" stroke-width="0.07">8017102858312</text><line x1="371.40" y1="54.70" x2="371.40" y2="57.40" stroke="#000" stroke-width="1.1"/><text transform="translate(372.50,60.70) rotate(-89.9)" font-size="2.85" text-anchor="end" fill="#000" stroke="#000" stroke-width="0.07">2017-02-5</text><line x1="374.87" y1="54.70" x2="374.87" y2="57.40" stroke="#000" stroke-width="1.1"/><text transform="translate(375.97,60.70) rotate(-89.9)" font-size="2.85" text-anchor="end" fill="#000" stroke="#000" stroke-width="0.07">2087-02-5</text><line x1="378.34" y1="54.70" x2="378.34" y2="57.40" stroke="#000" stroke-width="1.1"/><text transform="translate(379.44,60.70) rotate(-89.9)" font-size="2.85" text-anchor="end" fill="#000" stroke="#000" stroke-width="0.07">2017-82-5</text><line x1="381.81" y1="54.70" x2="381.81" y2="57.40" stroke="#000" stroke-width="1.1"/><text transform="translate(382.91,60.70) rotate(-89.9)" font-size="2.85" text-anchor="end" fill="#000" stroke="#000" stroke-width="0.07">30171</text><line x1="385.28" y1="54.70" x2="385.28" y2="57.40" stroke="#000" stroke-width="1.1"/><text transform="translate(386.38,60.70) rotate(-89.9)" font-size="2.85" text-anchor="end" fill="#000" stroke="#000" stroke-width="0.07">20171</text><line x1="388.76" y1="54.70" x2="388.76" y2="57.40" stroke="#000" stroke-width="1.1"/><text transform="translate(389.86,60.70) rotate(-89.9)" font-size="2.85" text-anchor="end" fill="#000" stroke="#000" stroke-width="0.07">2017</text><text x="312.40" y="89.60" font-size="5.1" text-anchor="middle" fill="#000" stroke="#000" stroke-width="0.08">Category</text><text transform="translate(211.60,32.20) rotate(-90)" font-size="5.15" text-anchor="middle" fill="#000" stroke="#000" stroke-width="0.1">SSD Scores</text><rect x="370.7" y="9.5" width="25.30" height="8.40" fill="#fff" fill-opacity="0.9" stroke="#c8c8c8" stroke-width="0.5" rx="0.6"/><rect x="371.80" y="11.55" width="6.2" height="1.7" fill="#1f5f98"/><text x="379.10" y="13.50" font-size="3.1" fill="#111" stroke="#111" stroke-width="0.05">Original K</text><rect x="371.80" y="15.75" width="6.2" height="1.7" fill="#e58a3c"/><text x="379.10" y="17.70" font-size="3.1" fill="#111" stroke="#111" stroke-width="0.05">Enhanced K</text></g>
<g><rect x="28.01" y="123.90" width="1.74" height="24.50" fill="#4b87bd"/><rect x="28.01" y="123.90" width="0.6" height="24.50" fill="#1f4b74"/><rect x="29.74" y="139.62" width="1.74" height="8.78" fill="#f6c793"/><rect x="31.48" y="110.85" width="1.74" height="37.55" fill="#4b87bd"/><rect x="31.48" y="110.85" width="0.6" height="37.55" fill="#1f4b74"/><rect x="33.22" y="139.62" width="1.74" height="8.78" fill="#f6c793"/><rect x="34.95" y="104.16" width="1.74" height="44.24" fill="#4b87bd"/><rect x="34.95" y="104.16" width="0.6" height="44.24" fill="#1f4b74"/><rect x="36.69" y="138.53" width="1.74" height="9.87" fill="#f6c793"/><rect x="38.42" y="105.26" width="1.74" height="43.14" fill="#4b87bd"/><rect x="38.42" y="105.26" width="0.6" height="43.14" fill="#1f4b74"/><rect x="40.16" y="137.43" width="1.74" height="10.97" fill="#f6c793"/><rect x="41.89" y="111.84" width="1.74" height="36.56" fill="#4b87bd"/><rect x="41.89" y="111.84" width="0.6" height="36.56" fill="#1f4b74"/><rect x="43.63" y="107.08" width="1.74" height="41.32" fill="#f6c793"/><rect x="45.36" y="108.18" width="1.74" height="40.22" fill="#4b87bd"/><rect x="45.36" y="108.18" width="0.6" height="40.22" fill="#1f4b74"/><rect x="47.10" y="108.18" width="1.74" height="40.22" fill="#f6c793"/><rect x="48.83" y="107.08" width="1.74" height="41.32" fill="#4b87bd"/><rect x="48.83" y="107.08" width="0.6" height="41.32" fill="#1f4b74"/><rect x="50.57" y="108.91" width="1.74" height="39.49" fill="#f6c793"/><rect x="52.30" y="106.72" width="1.74" height="41.68" fill="#4b87bd"/><rect x="52.30" y="106.72" width="0.6" height="41.68" fill="#1f4b74"/><rect x="54.04" y="109.64" width="1.74" height="38.76" fill="#f6c793"/><rect x="55.77" y="106.72" width="1.74" height="41.68" fill="#4b87bd"/><rect x="55.77" y="106.72" width="0.6" height="41.68" fill="#1f4b74"/><rect x="57.51" y="110.38" width="1.74" height="38.03" fill="#f6c793"/><rect x="59.25" y="105.99" width="1.74" height="42.41" fill="#4b87bd"/><rect x="59.25" y="105.99" width="0.6" height="42.41" fill="#1f4b74"/><rect x="60.98" y="111.11" width="1.74" height="37.29" fill="#f6c793"/><rect x="62.72" y="104.89" width="1.74" height="43.51" fill="#4b87bd"/><rect x="62.72" y="104.89" width="0.6" height="43.51" fill="#1f4b74"/><rect x="64.45" y="112.93" width="1.74" height="35.47" fill="#f6c793"/><rect x="66.19" y="104.16" width="1.74" height="44.24" fill="#4b87bd"/><rect x="66.19" y="104.16" width="0.6" height="44.24" fill="#1f4b74"/><rect x="67.92" y="112.93" width="1.74" height="35.47" fill="#f6c793"/><rect x="69.66" y="105.26" width="1.74" height="43.14" fill="#4b87bd"/><rect x="69.66" y="105.26" width="0.6" height="43.14" fill="#1f4b74"/><rect x="71.39" y="129.39" width="1.74" height="19.01" fill="#f6c793"/><rect x="73.13" y="146.21" width="1.74" height="2.19" fill="#4b87bd"/><rect x="73.13" y="146.21" width="0.6" height="2.19" fill="#1f4b74"/><rect x="74.86" y="147.67" width="1.74" height="0.73" fill="#f6c793"/><rect x="76.60" y="143.65" width="1.74" height="4.75" fill="#4b87bd"/><rect x="76.60" y="143.65" width="0.6" height="4.75" fill="#1f4b74"/><rect x="78.33" y="147.67" width="1.74" height="0.73" fill="#f6c793"/><rect x="80.07" y="119.88" width="1.74" height="28.52" fill="#4b87bd"/><rect x="80.07" y="119.88" width="0.6" height="28.52" fill="#1f4b74"/><rect x="81.81" y="135.75" width="1.74" height="12.65" fill="#f6c793"/><rect x="83.54" y="119.88" width="1.74" height="28.52" fill="#4b87bd"/><rect x="83.54" y="119.88" width="0.6" height="28.52" fill="#1f4b74"/><rect x="85.28" y="135.75" width="1.74" height="12.65" fill="#f6c793"/><rect x="87.01" y="119.88" width="1.74" height="28.52" fill="#4b87bd"/><rect x="87.01" y="119.88" width="0.6" height="28.52" fill="#1f4b74"/><rect x="88.75" y="135.97" width="1.74" height="12.43" fill="#f6c793"/><rect x="90.48" y="121.71" width="1.74" height="26.69" fill="#4b87bd"/><rect x="90.48" y="121.71" width="0.6" height="26.69" fill="#1f4b74"/><rect x="92.22" y="136.33" width="1.74" height="12.07" fill="#f6c793"/><rect x="93.95" y="116.59" width="1.74" height="31.81" fill="#4b87bd"/><rect x="93.95" y="116.59" width="0.6" height="31.81" fill="#1f4b74"/><rect x="95.69" y="137.07" width="1.74" height="11.33" fill="#f6c793"/><rect x="97.42" y="112.57" width="1.74" height="35.83" fill="#4b87bd"/><rect x="97.42" y="112.57" width="0.6" height="35.83" fill="#1f4b74"/><rect x="99.16" y="137.07" width="1.74" height="11.33" fill="#f6c793"/><rect x="100.89" y="112.57" width="1.74" height="35.83" fill="#4b87bd"/><rect x="100.89" y="112.57" width="0.6" height="35.83" fill="#1f4b74"/><rect x="102.63" y="137.43" width="1.74" height="10.97" fill="#f6c793"/><rect x="104.36" y="112.57" width="1.74" height="35.83" fill="#4b87bd"/><rect x="104.36" y="112.57" width="0.6" height="35.83" fill="#1f4b74"/><rect x="106.10" y="137.43" width="1.74" height="10.97" fill="#f6c793"/><rect x="107.84" y="112.57" width="1.74" height="35.83" fill="#4b87bd"/><rect x="107.84" y="112.57" width="0.6" height="35.83" fill="#1f4b74"/><rect x="109.57" y="137.80" width="1.74" height="10.60" fill="#f6c793"/><rect x="111.31" y="121.71" width="1.74" height="26.69" fill="#4b87bd"/><rect x="111.31" y="121.71" width="0.6" height="26.69" fill="#1f4b74"/><rect x="113.04" y="138.53" width="1.74" height="9.87" fill="#f6c793"/><rect x="114.78" y="122.26" width="1.74" height="26.14" fill="#4b87bd"/><rect x="114.78" y="122.26" width="0.6" height="26.14" fill="#1f4b74"/><rect x="116.51" y="138.89" width="1.74" height="9.51" fill="#f6c793"/><rect x="118.25" y="125.48" width="1.74" height="22.92" fill="#4b87bd"/><rect x="118.25" y="125.48" width="0.6" height="22.92" fill="#1f4b74"/><rect x="119.98" y="139.08" width="1.74" height="9.32" fill="#f6c793"/><rect x="121.72" y="125.48" width="1.74" height="22.92" fill="#4b87bd"/><rect x="121.72" y="125.48" width="0.6" height="22.92" fill="#1f4b74"/><rect x="123.45" y="139.08" width="1.74" height="9.32" fill="#f6c793"/><rect x="125.19" y="125.48" width="1.74" height="22.92" fill="#4b87bd"/><rect x="125.19" y="125.48" width="0.6" height="22.92" fill="#1f4b74"/><rect x="126.92" y="139.26" width="1.74" height="9.14" fill="#f6c793"/><rect x="128.66" y="123.90" width="1.74" height="24.50" fill="#4b87bd"/><rect x="128.66" y="123.90" width="0.6" height="24.50" fill="#1f4b74"/><rect x="130.39" y="142.92" width="1.74" height="5.48" fill="#f6c793"/><rect x="132.13" y="113.81" width="1.74" height="34.59" fill="#4b87bd"/><rect x="132.13" y="113.81" width="0.6" height="34.59" fill="#1f4b74"/><rect x="133.87" y="107.08" width="1.74" height="41.32" fill="#f6c793"/><rect x="135.60" y="114.95" width="1.74" height="33.45" fill="#4b87bd"/><rect x="135.60" y="114.95" width="0.6" height="33.45" fill="#1f4b74"/><rect x="137.34" y="107.08" width="1.74" height="41.32" fill="#f6c793"/><rect x="139.07" y="109.28" width="1.74" height="39.12" fill="#4b87bd"/><rect x="139.07" y="109.28" width="0.6" height="39.12" fill="#1f4b74"/><rect x="140.81" y="107.45" width="1.74" height="40.95" fill="#f6c793"/><rect x="142.54" y="105.99" width="1.74" height="42.41" fill="#4b87bd"/><rect x="142.54" y="105.99" width="0.6" height="42.41" fill="#1f4b74"/><rect x="144.28" y="112.57" width="1.74" height="35.83" fill="#f6c793"/><rect x="146.01" y="106.72" width="1.74" height="41.68" fill="#4b87bd"/><rect x="146.01" y="106.72" width="0.6" height="41.68" fill="#1f4b74"/><rect x="147.75" y="112.02" width="1.74" height="36.38" fill="#f6c793"/><rect x="149.48" y="105.99" width="1.74" height="42.41" fill="#4b87bd"/><rect x="149.48" y="105.99" width="0.6" height="42.41" fill="#1f4b74"/><rect x="151.22" y="114.95" width="1.74" height="33.45" fill="#f6c793"/><rect x="152.95" y="106.72" width="1.74" height="41.68" fill="#4b87bd"/><rect x="152.95" y="106.72" width="0.6" height="41.68" fill="#1f4b74"/><rect x="154.69" y="118.42" width="1.74" height="29.98" fill="#f6c793"/><rect x="156.43" y="112.02" width="1.74" height="36.38" fill="#4b87bd"/><rect x="156.43" y="112.02" width="0.6" height="36.38" fill="#1f4b74"/><rect x="158.16" y="120.61" width="1.74" height="27.79" fill="#f6c793"/><rect x="159.90" y="107.08" width="1.74" height="41.32" fill="#4b87bd"/><rect x="159.90" y="107.08" width="0.6" height="41.32" fill="#1f4b74"/><rect x="161.63" y="119.52" width="1.74" height="28.88" fill="#f6c793"/><rect x="163.37" y="105.99" width="1.74" height="42.41" fill="#4b87bd"/><rect x="163.37" y="105.99" width="0.6" height="42.41" fill="#1f4b74"/><rect x="165.10" y="109.28" width="1.74" height="39.12" fill="#f6c793"/><rect x="166.84" y="104.89" width="1.74" height="43.51" fill="#4b87bd"/><rect x="166.84" y="104.89" width="0.6" height="43.51" fill="#1f4b74"/><rect x="168.57" y="109.64" width="1.74" height="38.76" fill="#f6c793"/><rect x="170.31" y="107.08" width="1.74" height="41.32" fill="#4b87bd"/><rect x="170.31" y="107.08" width="0.6" height="41.32" fill="#1f4b74"/><rect x="172.04" y="119.52" width="1.74" height="28.88" fill="#f6c793"/><rect x="173.78" y="112.02" width="1.74" height="36.38" fill="#4b87bd"/><rect x="173.78" y="112.02" width="0.6" height="36.38" fill="#1f4b74"/><rect x="175.51" y="144.01" width="1.74" height="4.39" fill="#f6c793"/><rect x="177.25" y="105.26" width="1.74" height="43.14" fill="#4b87bd"/><rect x="177.25" y="105.26" width="0.6" height="43.14" fill="#1f4b74"/><rect x="178.98" y="119.52" width="1.74" height="28.88" fill="#f6c793"/><rect x="180.72" y="108.18" width="1.74" height="40.22" fill="#4b87bd"/><rect x="180.72" y="108.18" width="0.6" height="40.22" fill="#1f4b74"/><rect x="182.46" y="108.55" width="1.74" height="39.85" fill="#f6c793"/><path d="M20.20,101.80H192.00V148.40" fill="none" stroke="#777" stroke-width="1.1"/><path d="M20.20,101.60V148.40H192.00" fill="none" stroke="#333" stroke-width="1.1"/><line x1="17.80" y1="148.40" x2="20.20" y2="148.40" stroke="#000" stroke-width="1.0"/><text x="15.30" y="149.60" font-size="3.35" text-anchor="end" fill="#000" stroke="#000" stroke-width="0.05">0</text><line x1="17.80" y1="141.09" x2="20.20" y2="141.09" stroke="#000" stroke-width="1.0"/><text x="15.30" y="142.29" font-size="3.35" text-anchor="end" fill="#000" stroke="#000" stroke-width="0.05">20</text><line x1="17.80" y1="133.78" x2="20.20" y2="133.78" stroke="#000" stroke-width="1.0"/><text x="15.30" y="134.97" font-size="3.35" text-anchor="end" fill="#000" stroke="#000" stroke-width="0.05">40</text><line x1="17.80" y1="126.46" x2="20.20" y2="126.46" stroke="#000" stroke-width="1.0"/><text x="15.30" y="127.66" font-size="3.35" text-anchor="end" fill="#000" stroke="#000" stroke-width="0.05">60</text><line x1="17.80" y1="119.15" x2="20.20" y2="119.15" stroke="#000" stroke-width="1.0"/><text x="15.30" y="120.35" font-size="3.35" text-anchor="end" fill="#000" stroke="#000" stroke-width="0.05">80</text><line x1="17.80" y1="111.84" x2="20.20" y2="111.84" stroke="#000" stroke-width="1.0"/><text x="15.30" y="113.04" font-size="3.35" text-anchor="end" fill="#000" stroke="#000" stroke-width="0.05">100</text><line x1="17.80" y1="104.52" x2="20.20" y2="104.52" stroke="#000" stroke-width="1.0"/><text x="15.30" y="105.72" font-size="3.35" text-anchor="end" fill="#000" stroke="#000" stroke-width="0.05">120</text><line x1="29.74" y1="148.40" x2="29.74" y2="151.10" stroke="#000" stroke-width="1.1"/><text transform="translate(30.84,154.40) rotate(-89.9)" font-size="2.85" text-anchor="end" fill="#000" stroke="#000" stroke-width="0.07">2017102-5831741</text><line x1="33.22" y1="148.40" x2="33.22" y2="151.10" stroke="#000" stroke-width="1.1"/><text transform="translate(34.32,154.40) rotate(-89.9)" font-size="2.85" text-anchor="end" fill="#000" stroke="#000" stroke-width="0.07">991710-658317</text><line x1="36.69" y1="148.40" x2="36.69" y2="151.10" stroke="#000" stroke-width="1.1"/><text transform="translate(37.79,154.40) rotate(-89.9)" font-size="2.85" text-anchor="end" fill="#000" stroke="#000" stroke-width="0.07">201710-658717</text><line x1="40.16" y1="148.40" x2="40.16" y2="151.10" stroke="#000" stroke-width="1.1"/><text transform="translate(41.26,154.40) rotate(-89.9)" font-size="2.85" text-anchor="end" fill="#000" stroke="#000" stroke-width="0.07">231710-658317</text><line x1="43.63" y1="148.40" x2="43.63" y2="151.10" stroke="#000" stroke-width="1.1"/><text transform="translate(44.73,154.40) rotate(-89.9)" font-size="2.85" text-anchor="end" fill="#000" stroke="#000" stroke-width="0.07">601950-651417</text><line x1="47.10" y1="148.40" x2="47.10" y2="151.10" stroke="#000" stroke-width="1.1"/><text transform="translate(48.20,154.40) rotate(-89.9)" font-size="2.85" text-anchor="end" fill="#000" stroke="#000" stroke-width="0.07">201710-658317</text><line x1="50.57" y1="148.40" x2="50.57" y2="151.10" stroke="#000" stroke-width="1.1"/><text transform="translate(51.67,154.40) rotate(-89.9)" font-size="2.85" text-anchor="end" fill="#000" stroke="#000" stroke-width="0.07">201710-664362</text><line x1="54.04" y1="148.40" x2="54.04" y2="151.10" stroke="#000" stroke-width="1.1"/><text transform="translate(55.14,154.40) rotate(-89.9)" font-size="2.85" text-anchor="end" fill="#000" stroke="#000" stroke-width="0.07">201720-658380</text><line x1="57.51" y1="148.40" x2="57.51" y2="151.10" stroke="#000" stroke-width="1.1"/><text transform="translate(58.61,154.40) rotate(-89.9)" font-size="2.85" text-anchor="end" fill="#000" stroke="#000" stroke-width="0.07">281710-658317</text><line x1="60.98" y1="148.40" x2="60.98" y2="151.10" stroke="#000" stroke-width="1.1"/><text transform="translate(62.08,154.40) rotate(-89.9)" font-size="2.85" text-anchor="end" fill="#000" stroke="#000" stroke-width="0.07">201719-659317</text><line x1="64.45" y1="148.40" x2="64.45" y2="151.10" stroke="#000" stroke-width="1.1"/><text transform="translate(65.55,154.40) rotate(-89.9)" font-size="2.85" text-anchor="end" fill="#000" stroke="#000" stroke-width="0.07">201710-658517</text><line x1="67.92" y1="148.40" x2="67.92" y2="151.10" stroke="#000" stroke-width="1.1"/><text transform="translate(69.02,154.40) rotate(-89.9)" font-size="2.85" text-anchor="end" fill="#000" stroke="#000" stroke-width="0.07">201710-688317</text><line x1="71.39" y1="148.40" x2="71.39" y2="151.10" stroke="#000" stroke-width="1.1"/><text transform="translate(72.49,154.40) rotate(-89.9)" font-size="2.85" text-anchor="end" fill="#000" stroke="#000" stroke-width="0.07">361710-658317</text><line x1="74.86" y1="148.40" x2="74.86" y2="151.10" stroke="#000" stroke-width="1.1"/><text transform="translate(75.96,154.40) rotate(-89.9)" font-size="2.85" text-anchor="end" fill="#000" stroke="#000" stroke-width="0.07">551</text><line x1="78.33" y1="148.40" x2="78.33" y2="151.10" stroke="#000" stroke-width="1.1"/><text transform="translate(79.43,154.40) rotate(-89.9)" font-size="2.85" text-anchor="end" fill="#000" stroke="#000" stroke-width="0.07">201</text><line x1="81.81" y1="148.40" x2="81.81" y2="151.10" stroke="#000" stroke-width="1.1"/><text transform="translate(82.91,154.40) rotate(-89.9)" font-size="2.85" text-anchor="end" fill="#000" stroke="#000" stroke-width="0.07">297</text><line x1="85.28" y1="148.40" x2="85.28" y2="151.10" stroke="#000" stroke-width="1.1"/><text transform="translate(86.38,154.40) rotate(-89.9)" font-size="2.85" text-anchor="end" fill="#000" stroke="#000" stroke-width="0.07">511</text><line x1="88.75" y1="148.40" x2="88.75" y2="151.10" stroke="#000" stroke-width="1.1"/><text transform="translate(89.85,154.40) rotate(-89.9)" font-size="2.85" text-anchor="end" fill="#000" stroke="#000" stroke-width="0.07">301</text><line x1="92.22" y1="148.40" x2="92.22" y2="151.10" stroke="#000" stroke-width="1.1"/><text transform="translate(93.32,154.40) rotate(-89.9)" font-size="2.85" text-anchor="end" fill="#000" stroke="#000" stroke-width="0.07">506</text><line x1="95.69" y1="148.40" x2="95.69" y2="151.10" stroke="#000" stroke-width="1.1"/><text transform="translate(96.79,154.40) rotate(-89.9)" font-size="2.85" text-anchor="end" fill="#000" stroke="#000" stroke-width="0.07">201</text><line x1="99.16" y1="148.40" x2="99.16" y2="151.10" stroke="#000" stroke-width="1.1"/><text transform="translate(100.26,154.40) rotate(-89.9)" font-size="2.85" text-anchor="end" fill="#000" stroke="#000" stroke-width="0.07">201</text><line x1="102.63" y1="148.40" x2="102.63" y2="151.10" stroke="#000" stroke-width="1.1"/><text transform="translate(103.73,154.40) rotate(-89.9)" font-size="2.85" text-anchor="end" fill="#000" stroke="#000" stroke-width="0.07">201</text><line x1="106.10" y1="148.40" x2="106.10" y2="151.10" stroke="#000" stroke-width="1.1"/><text transform="translate(107.20,154.40) rotate(-89.9)" font-size="2.85" text-anchor="end" fill="#000" stroke="#000" stroke-width="0.07">221</text><line x1="109.57" y1="148.40" x2="109.57" y2="151.10" stroke="#000" stroke-width="1.1"/><text transform="translate(110.67,154.40) rotate(-89.9)" font-size="2.85" text-anchor="end" fill="#000" stroke="#000" stroke-width="0.07">201</text><line x1="113.04" y1="148.40" x2="113.04" y2="151.10" stroke="#000" stroke-width="1.1"/><text transform="translate(114.14,154.40) rotate(-89.9)" font-size="2.85" text-anchor="end" fill="#000" stroke="#000" stroke-width="0.07">263</text><line x1="116.51" y1="148.40" x2="116.51" y2="151.10" stroke="#000" stroke-width="1.1"/><text transform="translate(117.61,154.40) rotate(-89.9)" font-size="2.85" text-anchor="end" fill="#000" stroke="#000" stroke-width="0.07">301</text><line x1="119.98" y1="148.40" x2="119.98" y2="151.10" stroke="#000" stroke-width="1.1"/><text transform="translate(121.08,154.40) rotate(-89.9)" font-size="2.85" text-anchor="end" fill="#000" stroke="#000" stroke-width="0.07">251</text><line x1="123.45" y1="148.40" x2="123.45" y2="151.10" stroke="#000" stroke-width="1.1"/><text transform="translate(124.55,154.40) rotate(-89.9)" font-size="2.85" text-anchor="end" fill="#000" stroke="#000" stroke-width="0.07">205</text><line x1="126.92" y1="148.40" x2="126.92" y2="151.10" stroke="#000" stroke-width="1.1"/><text transform="translate(128.02,154.40) rotate(-89.9)" font-size="2.85" text-anchor="end" fill="#000" stroke="#000" stroke-width="0.07">981</text><line x1="130.39" y1="148.40" x2="130.39" y2="151.10" stroke="#000" stroke-width="1.1"/><text transform="translate(131.49,154.40) rotate(-89.9)" font-size="2.85" text-anchor="end" fill="#000" stroke="#000" stroke-width="0.07">801</text><line x1="133.87" y1="148.40" x2="133.87" y2="151.10" stroke="#000" stroke-width="1.1"/><text transform="translate(134.97,154.40) rotate(-89.9)" font-size="2.85" text-anchor="end" fill="#000" stroke="#000" stroke-width="0.07">2212102658310</text><line x1="137.34" y1="148.40" x2="137.34" y2="151.10" stroke="#000" stroke-width="1.1"/><text transform="translate(138.44,154.40) rotate(-89.9)" font-size="2.85" text-anchor="end" fill="#000" stroke="#000" stroke-width="0.07">2087112658317</text><line x1="140.81" y1="148.40" x2="140.81" y2="151.10" stroke="#000" stroke-width="1.1"/><text transform="translate(141.91,154.40) rotate(-89.9)" font-size="2.85" text-anchor="end" fill="#000" stroke="#000" stroke-width="0.07">2843202658317</text><line x1="144.28" y1="148.40" x2="144.28" y2="151.10" stroke="#000" stroke-width="1.1"/><text transform="translate(145.38,154.40) rotate(-89.9)" font-size="2.85" text-anchor="end" fill="#000" stroke="#000" stroke-width="0.07">5077623658317</text><line x1="147.75" y1="148.40" x2="147.75" y2="151.10" stroke="#000" stroke-width="1.1"/><text transform="translate(148.85,154.40) rotate(-89.9)" font-size="2.85" text-anchor="end" fill="#000" stroke="#000" stroke-width="0.07">2017102653117</text><line x1="151.22" y1="148.40" x2="151.22" y2="151.10" stroke="#000" stroke-width="1.1"/><text transform="translate(152.32,154.40) rotate(-89.9)" font-size="2.85" text-anchor="end" fill="#000" stroke="#000" stroke-width="0.07">2017402658327</text><line x1="154.69" y1="148.40" x2="154.69" y2="151.10" stroke="#000" stroke-width="1.1"/><text transform="translate(155.79,154.40) rotate(-89.9)" font-size="2.85" text-anchor="end" fill="#000" stroke="#000" stroke-width="0.07">2117102664317</text><line x1="158.16" y1="148.40" x2="158.16" y2="151.10" stroke="#000" stroke-width="1.1"/><text transform="translate(159.26,154.40) rotate(-89.9)" font-size="2.85" text-anchor="end" fill="#000" stroke="#000" stroke-width="0.07">2014102654317</text><line x1="161.63" y1="148.40" x2="161.63" y2="151.10" stroke="#000" stroke-width="1.1"/><text transform="translate(162.73,154.40) rotate(-89.9)" font-size="2.85" text-anchor="end" fill="#000" stroke="#000" stroke-width="0.07">8017102858312</text><line x1="165.10" y1="148.40" x2="165.10" y2="151.10" stroke="#000" stroke-width="1.1"/><text transform="translate(166.20,154.40) rotate(-89.9)" font-size="2.85" text-anchor="end" fill="#000" stroke="#000" stroke-width="0.07">2017-02-5</text><line x1="168.57" y1="148.40" x2="168.57" y2="151.10" stroke="#000" stroke-width="1.1"/><text transform="translate(169.67,154.40) rotate(-89.9)" font-size="2.85" text-anchor="end" fill="#000" stroke="#000" stroke-width="0.07">2087-02-5</text><line x1="172.04" y1="148.40" x2="172.04" y2="151.10" stroke="#000" stroke-width="1.1"/><text transform="translate(173.14,154.40) rotate(-89.9)" font-size="2.85" text-anchor="end" fill="#000" stroke="#000" stroke-width="0.07">2017-82-5</text><line x1="175.51" y1="148.40" x2="175.51" y2="151.10" stroke="#000" stroke-width="1.1"/><text transform="translate(176.61,154.40) rotate(-89.9)" font-size="2.85" text-anchor="end" fill="#000" stroke="#000" stroke-width="0.07">30171</text><line x1="178.98" y1="148.40" x2="178.98" y2="151.10" stroke="#000" stroke-width="1.1"/><text transform="translate(180.08,154.40) rotate(-89.9)" font-size="2.85" text-anchor="end" fill="#000" stroke="#000" stroke-width="0.07">20171</text><line x1="182.46" y1="148.40" x2="182.46" y2="151.10" stroke="#000" stroke-width="1.1"/><text transform="translate(183.56,154.40) rotate(-89.9)" font-size="2.85" text-anchor="end" fill="#000" stroke="#000" stroke-width="0.07">2017</text><text x="106.10" y="183.30" font-size="5.1" text-anchor="middle" fill="#000" stroke="#000" stroke-width="0.08">Category</text><text transform="translate(5.30,125.60) rotate(-90)" font-size="5.15" text-anchor="middle" fill="#000" stroke="#000" stroke-width="0.1">SSD Scores</text><rect x="93.4" y="103.6" width="25.90" height="8.10" fill="#fff" fill-opacity="0.9" stroke="#c8c8c8" stroke-width="0.5" rx="0.6"/><rect x="94.50" y="105.65" width="6.2" height="1.7" fill="#1f5f98"/><text x="101.80" y="107.60" font-size="3.1" fill="#111" stroke="#111" stroke-width="0.05">Original V</text><rect x="94.50" y="109.85" width="6.2" height="1.7" fill="#e58a3c"/><text x="101.80" y="111.80" font-size="3.1" fill="#111" stroke="#111" stroke-width="0.05">Enhanced V</text></g>
<g><rect x="234.66" y="109.03" width="1.75" height="39.37" fill="#62a6d6"/><rect x="234.66" y="109.03" width="0.9" height="39.37" fill="#1f4b74"/><rect x="238.17" y="111.24" width="1.75" height="37.16" fill="#62a6d6"/><rect x="238.17" y="111.24" width="0.9" height="37.16" fill="#1f4b74"/><rect x="241.68" y="116.06" width="1.75" height="32.34" fill="#62a6d6"/><rect x="241.68" y="116.06" width="0.9" height="32.34" fill="#1f4b74"/><rect x="245.19" y="132.73" width="1.75" height="15.67" fill="#62a6d6"/><rect x="245.19" y="132.73" width="0.9" height="15.67" fill="#1f4b74"/><rect x="248.70" y="122.89" width="1.75" height="25.51" fill="#62a6d6"/><rect x="248.70" y="122.89" width="0.9" height="25.51" fill="#1f4b74"/><rect x="252.21" y="123.29" width="1.75" height="25.11" fill="#62a6d6"/><rect x="252.21" y="123.29" width="0.9" height="25.11" fill="#1f4b74"/><rect x="255.72" y="123.90" width="1.75" height="24.50" fill="#62a6d6"/><rect x="255.72" y="123.90" width="0.9" height="24.50" fill="#1f4b74"/><rect x="259.23" y="123.90" width="1.75" height="24.50" fill="#62a6d6"/><rect x="259.23" y="123.90" width="0.9" height="24.50" fill="#1f4b74"/><rect x="262.74" y="124.30" width="1.75" height="24.10" fill="#62a6d6"/><rect x="262.74" y="124.30" width="0.9" height="24.10" fill="#1f4b74"/><rect x="266.25" y="125.10" width="1.75" height="23.30" fill="#62a6d6"/><rect x="266.25" y="125.10" width="0.9" height="23.30" fill="#1f4b74"/><rect x="269.76" y="127.91" width="1.75" height="20.49" fill="#62a6d6"/><rect x="269.76" y="127.91" width="0.9" height="20.49" fill="#1f4b74"/><rect x="273.27" y="130.52" width="1.75" height="17.88" fill="#62a6d6"/><rect x="273.27" y="130.52" width="0.9" height="17.88" fill="#1f4b74"/><rect x="276.78" y="127.91" width="1.75" height="20.49" fill="#62a6d6"/><rect x="276.78" y="127.91" width="0.9" height="20.49" fill="#1f4b74"/><rect x="280.29" y="130.12" width="1.75" height="18.28" fill="#62a6d6"/><rect x="280.29" y="130.12" width="0.9" height="18.28" fill="#1f4b74"/><rect x="283.79" y="116.66" width="1.75" height="31.74" fill="#62a6d6"/><rect x="283.79" y="116.66" width="0.9" height="31.74" fill="#1f4b74"/><rect x="287.30" y="113.45" width="1.75" height="34.95" fill="#62a6d6"/><rect x="287.30" y="113.45" width="0.9" height="34.95" fill="#1f4b74"/><rect x="290.81" y="110.64" width="1.75" height="37.76" fill="#62a6d6"/><rect x="290.81" y="110.64" width="0.9" height="37.76" fill="#1f4b74"/><rect x="294.32" y="109.03" width="1.75" height="39.37" fill="#62a6d6"/><rect x="294.32" y="109.03" width="0.9" height="39.37" fill="#1f4b74"/><rect x="297.83" y="108.63" width="1.75" height="39.77" fill="#62a6d6"/><rect x="297.83" y="108.63" width="0.9" height="39.77" fill="#1f4b74"/><rect x="301.34" y="108.63" width="1.75" height="39.77" fill="#62a6d6"/><rect x="301.34" y="108.63" width="0.9" height="39.77" fill="#1f4b74"/><rect x="304.85" y="108.03" width="1.75" height="40.37" fill="#62a6d6"/><rect x="304.85" y="108.03" width="0.9" height="40.37" fill="#1f4b74"/><rect x="308.36" y="108.03" width="1.75" height="40.37" fill="#62a6d6"/><rect x="308.36" y="108.03" width="0.9" height="40.37" fill="#1f4b74"/><rect x="311.87" y="108.03" width="1.75" height="40.37" fill="#62a6d6"/><rect x="311.87" y="108.03" width="0.9" height="40.37" fill="#1f4b74"/><rect x="315.38" y="108.03" width="1.75" height="40.37" fill="#62a6d6"/><rect x="315.38" y="108.03" width="0.9" height="40.37" fill="#1f4b74"/><rect x="318.89" y="121.08" width="1.75" height="27.32" fill="#62a6d6"/><rect x="318.89" y="121.08" width="0.9" height="27.32" fill="#1f4b74"/><rect x="322.40" y="122.41" width="1.75" height="25.99" fill="#62a6d6"/><rect x="322.40" y="122.41" width="0.9" height="25.99" fill="#1f4b74"/><rect x="325.91" y="129.64" width="1.75" height="18.76" fill="#62a6d6"/><rect x="325.91" y="129.64" width="0.9" height="18.76" fill="#1f4b74"/><rect x="329.42" y="117.47" width="1.75" height="30.93" fill="#62a6d6"/><rect x="329.42" y="117.47" width="0.9" height="30.93" fill="#1f4b74"/><rect x="332.93" y="112.25" width="1.75" height="36.15" fill="#62a6d6"/><rect x="332.93" y="112.25" width="0.9" height="36.15" fill="#1f4b74"/><rect x="336.44" y="109.23" width="1.75" height="39.17" fill="#62a6d6"/><rect x="336.44" y="109.23" width="0.9" height="39.17" fill="#1f4b74"/><rect x="339.95" y="122.01" width="1.75" height="26.39" fill="#62a6d6"/><rect x="339.95" y="122.01" width="0.9" height="26.39" fill="#1f4b74"/><rect x="343.46" y="122.01" width="1.75" height="26.39" fill="#62a6d6"/><rect x="343.46" y="122.01" width="0.9" height="26.39" fill="#1f4b74"/><rect x="346.97" y="121.08" width="1.75" height="27.32" fill="#62a6d6"/><rect x="346.97" y="121.08" width="0.9" height="27.32" fill="#1f4b74"/><rect x="350.48" y="124.30" width="1.75" height="24.10" fill="#62a6d6"/><rect x="350.48" y="124.30" width="0.9" height="24.10" fill="#1f4b74"/><rect x="353.99" y="124.30" width="1.75" height="24.10" fill="#62a6d6"/><rect x="353.99" y="124.30" width="0.9" height="24.10" fill="#1f4b74"/><rect x="357.50" y="120.68" width="1.75" height="27.72" fill="#62a6d6"/><rect x="357.50" y="120.68" width="0.9" height="27.72" fill="#1f4b74"/><rect x="361.01" y="126.51" width="1.75" height="21.89" fill="#62a6d6"/><rect x="361.01" y="126.51" width="0.9" height="21.89" fill="#1f4b74"/><rect x="364.52" y="126.51" width="1.75" height="21.89" fill="#62a6d6"/><rect x="364.52" y="126.51" width="0.9" height="21.89" fill="#1f4b74"/><rect x="368.03" y="120.68" width="1.75" height="27.72" fill="#62a6d6"/><rect x="368.03" y="120.68" width="0.9" height="27.72" fill="#1f4b74"/><rect x="371.54" y="127.91" width="1.75" height="20.49" fill="#62a6d6"/><rect x="371.54" y="127.91" width="0.9" height="20.49" fill="#1f4b74"/><rect x="375.05" y="123.29" width="1.75" height="25.11" fill="#62a6d6"/><rect x="375.05" y="123.29" width="0.9" height="25.11" fill="#1f4b74"/><rect x="378.56" y="123.29" width="1.75" height="25.11" fill="#62a6d6"/><rect x="378.56" y="123.29" width="0.9" height="25.11" fill="#1f4b74"/><rect x="382.07" y="122.41" width="1.75" height="25.99" fill="#62a6d6"/><rect x="382.07" y="122.41" width="0.9" height="25.99" fill="#1f4b74"/><rect x="385.58" y="120.28" width="1.75" height="28.12" fill="#62a6d6"/><rect x="385.58" y="120.28" width="0.9" height="28.12" fill="#1f4b74"/><rect x="389.09" y="103.81" width="1.75" height="44.59" fill="#62a6d6"/><rect x="389.09" y="103.81" width="0.9" height="44.59" fill="#1f4b74"/><path d="M226.50,101.80H398.30V148.40" fill="none" stroke="#777" stroke-width="1.1"/><path d="M226.50,101.60V148.40H398.30" fill="none" stroke="#333" stroke-width="1.1"/><line x1="224.10" y1="148.40" x2="226.50" y2="148.40" stroke="#000" stroke-width="1.0"/><text x="221.60" y="149.60" font-size="3.35" text-anchor="end" fill="#000" stroke="#000" stroke-width="0.05">0</text><line x1="224.10" y1="140.37" x2="226.50" y2="140.37" stroke="#000" stroke-width="1.0"/><text x="221.60" y="141.57" font-size="3.35" text-anchor="end" fill="#000" stroke="#000" stroke-width="0.05">20</text><line x1="224.10" y1="132.33" x2="226.50" y2="132.33" stroke="#000" stroke-width="1.0"/><text x="221.60" y="133.53" font-size="3.35" text-anchor="end" fill="#000" stroke="#000" stroke-width="0.05">40</text><line x1="224.10" y1="124.30" x2="226.50" y2="124.30" stroke="#000" stroke-width="1.0"/><text x="221.60" y="125.50" font-size="3.35" text-anchor="end" fill="#000" stroke="#000" stroke-width="0.05">60</text><line x1="224.10" y1="116.26" x2="226.50" y2="116.26" stroke="#000" stroke-width="1.0"/><text x="221.60" y="117.46" font-size="3.35" text-anchor="end" fill="#000" stroke="#000" stroke-width="0.05">80</text><line x1="224.10" y1="108.23" x2="226.50" y2="108.23" stroke="#000" stroke-width="1.0"/><text x="221.60" y="109.43" font-size="3.35" text-anchor="end" fill="#000" stroke="#000" stroke-width="0.05">100</text><line x1="235.54" y1="148.40" x2="235.54" y2="151.10" stroke="#000" stroke-width="1.1"/><text transform="translate(236.64,154.40) rotate(-89.9)" font-size="2.85" text-anchor="end" fill="#000" stroke="#000" stroke-width="0.07">2017102-5831741</text><line x1="239.05" y1="148.40" x2="239.05" y2="151.10" stroke="#000" stroke-width="1.1"/><text transform="translate(240.15,154.40) rotate(-89.9)" font-size="2.85" text-anchor="end" fill="#000" stroke="#000" stroke-width="0.07">991710-658317</text><line x1="242.56" y1="148.40" x2="242.56" y2="151.10" stroke="#000" stroke-width="1.1"/><text transform="translate(243.66,154.40) rotate(-89.9)" font-size="2.85" text-anchor="end" fill="#000" stroke="#000" stroke-width="0.07">201710-658717</text><line x1="246.07" y1="148.40" x2="246.07" y2="151.10" stroke="#000" stroke-width="1.1"/><text transform="translate(247.17,154.40) rotate(-89.9)" font-size="2.85" text-anchor="end" fill="#000" stroke="#000" stroke-width="0.07">231710-658317</text><line x1="249.58" y1="148.40" x2="249.58" y2="151.10" stroke="#000" stroke-width="1.1"/><text transform="translate(250.68,154.40) rotate(-89.9)" font-size="2.85" text-anchor="end" fill="#000" stroke="#000" stroke-width="0.07">601950-651417</text><line x1="253.09" y1="148.40" x2="253.09" y2="151.10" stroke="#000" stroke-width="1.1"/><text transform="translate(254.19,154.40) rotate(-89.9)" font-size="2.85" text-anchor="end" fill="#000" stroke="#000" stroke-width="0.07">201710-658317</text><line x1="256.59" y1="148.40" x2="256.59" y2="151.10" stroke="#000" stroke-width="1.1"/><text transform="translate(257.69,154.40) rotate(-89.9)" font-size="2.85" text-anchor="end" fill="#000" stroke="#000" stroke-width="0.07">201710-664362</text><line x1="260.10" y1="148.40" x2="260.10" y2="151.10" stroke="#000" stroke-width="1.1"/><text transform="translate(261.20,154.40) rotate(-89.9)" font-size="2.85" text-anchor="end" fill="#000" stroke="#000" stroke-width="0.07">201720-658380</text><line x1="263.61" y1="148.40" x2="263.61" y2="151.10" stroke="#000" stroke-width="1.1"/><text transform="translate(264.71,154.40) rotate(-89.9)" font-size="2.85" text-anchor="end" fill="#000" stroke="#000" stroke-width="0.07">281710-658317</text><line x1="267.12" y1="148.40" x2="267.12" y2="151.10" stroke="#000" stroke-width="1.1"/><text transform="translate(268.22,154.40) rotate(-89.9)" font-size="2.85" text-anchor="end" fill="#000" stroke="#000" stroke-width="0.07">201719-659317</text><line x1="270.63" y1="148.40" x2="270.63" y2="151.10" stroke="#000" stroke-width="1.1"/><text transform="translate(271.73,154.40) rotate(-89.9)" font-size="2.85" text-anchor="end" fill="#000" stroke="#000" stroke-width="0.07">201710-658517</text><line x1="274.14" y1="148.40" x2="274.14" y2="151.10" stroke="#000" stroke-width="1.1"/><text transform="translate(275.24,154.40) rotate(-89.9)" font-size="2.85" text-anchor="end" fill="#000" stroke="#000" stroke-width="0.07">201710-688317</text><line x1="277.65" y1="148.40" x2="277.65" y2="151.10" stroke="#000" stroke-width="1.1"/><text transform="translate(278.75,154.40) rotate(-89.9)" font-size="2.85" text-anchor="end" fill="#000" stroke="#000" stroke-width="0.07">361710-658317</text><line x1="281.16" y1="148.40" x2="281.16" y2="151.10" stroke="#000" stroke-width="1.1"/><text transform="translate(282.26,154.40) rotate(-89.9)" font-size="2.85" text-anchor="end" fill="#000" stroke="#000" stroke-width="0.07">551</text><line x1="284.67" y1="148.40" x2="284.67" y2="151.10" stroke="#000" stroke-width="1.1"/><text transform="translate(285.77,154.40) rotate(-89.9)" font-size="2.85" text-anchor="end" fill="#000" stroke="#000" stroke-width="0.07">201</text><line x1="288.18" y1="148.40" x2="288.18" y2="151.10" stroke="#000" stroke-width="1.1"/><text transform="translate(289.28,154.40) rotate(-89.9)" font-size="2.85" text-anchor="end" fill="#000" stroke="#000" stroke-width="0.07">297</text><line x1="291.69" y1="148.40" x2="291.69" y2="151.10" stroke="#000" stroke-width="1.1"/><text transform="translate(292.79,154.40) rotate(-89.9)" font-size="2.85" text-anchor="end" fill="#000" stroke="#000" stroke-width="0.07">511</text><line x1="295.20" y1="148.40" x2="295.20" y2="151.10" stroke="#000" stroke-width="1.1"/><text transform="translate(296.30,154.40) rotate(-89.9)" font-size="2.85" text-anchor="end" fill="#000" stroke="#000" stroke-width="0.07">301</text><line x1="298.71" y1="148.40" x2="298.71" y2="151.10" stroke="#000" stroke-width="1.1"/><text transform="translate(299.81,154.40) rotate(-89.9)" font-size="2.85" text-anchor="end" fill="#000" stroke="#000" stroke-width="0.07">506</text><line x1="302.22" y1="148.40" x2="302.22" y2="151.10" stroke="#000" stroke-width="1.1"/><text transform="translate(303.32,154.40) rotate(-89.9)" font-size="2.85" text-anchor="end" fill="#000" stroke="#000" stroke-width="0.07">201</text><line x1="305.73" y1="148.40" x2="305.73" y2="151.10" stroke="#000" stroke-width="1.1"/><text transform="translate(306.83,154.40) rotate(-89.9)" font-size="2.85" text-anchor="end" fill="#000" stroke="#000" stroke-width="0.07">201</text><line x1="309.24" y1="148.40" x2="309.24" y2="151.10" stroke="#000" stroke-width="1.1"/><text transform="translate(310.34,154.40) rotate(-89.9)" font-size="2.85" text-anchor="end" fill="#000" stroke="#000" stroke-width="0.07">201</text><line x1="312.75" y1="148.40" x2="312.75" y2="151.10" stroke="#000" stroke-width="1.1"/><text transform="translate(313.85,154.40) rotate(-89.9)" font-size="2.85" text-anchor="end" fill="#000" stroke="#000" stroke-width="0.07">221</text><line x1="316.26" y1="148.40" x2="316.26" y2="151.10" stroke="#000" stroke-width="1.1"/><text transform="translate(317.36,154.40) rotate(-89.9)" font-size="2.85" text-anchor="end" fill="#000" stroke="#000" stroke-width="0.07">201</text><line x1="319.77" y1="148.40" x2="319.77" y2="151.10" stroke="#000" stroke-width="1.1"/><text transform="translate(320.87,154.40) rotate(-89.9)" font-size="2.85" text-anchor="end" fill="#000" stroke="#000" stroke-width="0.07">263</text><line x1="323.28" y1="148.40" x2="323.28" y2="151.10" stroke="#000" stroke-width="1.1"/><text transform="translate(324.38,154.40) rotate(-89.9)" font-size="2.85" text-anchor="end" fill="#000" stroke="#000" stroke-width="0.07">301</text><line x1="326.79" y1="148.40" x2="326.79" y2="151.10" stroke="#000" stroke-width="1.1"/><text transform="translate(327.89,154.40) rotate(-89.9)" font-size="2.85" text-anchor="end" fill="#000" stroke="#000" stroke-width="0.07">251</text><line x1="330.30" y1="148.40" x2="330.30" y2="151.10" stroke="#000" stroke-width="1.1"/><text transform="translate(331.40,154.40) rotate(-89.9)" font-size="2.85" text-anchor="end" fill="#000" stroke="#000" stroke-width="0.07">205</text><line x1="333.81" y1="148.40" x2="333.81" y2="151.10" stroke="#000" stroke-width="1.1"/><text transform="translate(334.91,154.40) rotate(-89.9)" font-size="2.85" text-anchor="end" fill="#000" stroke="#000" stroke-width="0.07">981</text><line x1="337.32" y1="148.40" x2="337.32" y2="151.10" stroke="#000" stroke-width="1.1"/><text transform="translate(338.42,154.40) rotate(-89.9)" font-size="2.85" text-anchor="end" fill="#000" stroke="#000" stroke-width="0.07">801</text><line x1="340.83" y1="148.40" x2="340.83" y2="151.10" stroke="#000" stroke-width="1.1"/><text transform="translate(341.93,154.40) rotate(-89.9)" font-size="2.85" text-anchor="end" fill="#000" stroke="#000" stroke-width="0.07">2212102658310</text><line x1="344.34" y1="148.40" x2="344.34" y2="151.10" stroke="#000" stroke-width="1.1"/><text transform="translate(345.44,154.40) rotate(-89.9)" font-size="2.85" text-anchor="end" fill="#000" stroke="#000" stroke-width="0.07">2087112658317</text><line x1="347.85" y1="148.40" x2="347.85" y2="151.10" stroke="#000" stroke-width="1.1"/><text transform="translate(348.95,154.40) rotate(-89.9)" font-size="2.85" text-anchor="end" fill="#000" stroke="#000" stroke-width="0.07">2843202658317</text><line x1="351.36" y1="148.40" x2="351.36" y2="151.10" stroke="#000" stroke-width="1.1"/><text transform="translate(352.46,154.40) rotate(-89.9)" font-size="2.85" text-anchor="end" fill="#000" stroke="#000" stroke-width="0.07">5077623658317</text><line x1="354.87" y1="148.40" x2="354.87" y2="151.10" stroke="#000" stroke-width="1.1"/><text transform="translate(355.97,154.40) rotate(-89.9)" font-size="2.85" text-anchor="end" fill="#000" stroke="#000" stroke-width="0.07">2017102653117</text><line x1="358.38" y1="148.40" x2="358.38" y2="151.10" stroke="#000" stroke-width="1.1"/><text transform="translate(359.48,154.40) rotate(-89.9)" font-size="2.85" text-anchor="end" fill="#000" stroke="#000" stroke-width="0.07">2017402658327</text><line x1="361.89" y1="148.40" x2="361.89" y2="151.10" stroke="#000" stroke-width="1.1"/><text transform="translate(362.99,154.40) rotate(-89.9)" font-size="2.85" text-anchor="end" fill="#000" stroke="#000" stroke-width="0.07">2117102664317</text><line x1="365.40" y1="148.40" x2="365.40" y2="151.10" stroke="#000" stroke-width="1.1"/><text transform="translate(366.50,154.40) rotate(-89.9)" font-size="2.85" text-anchor="end" fill="#000" stroke="#000" stroke-width="0.07">2014102654317</text><line x1="368.91" y1="148.40" x2="368.91" y2="151.10" stroke="#000" stroke-width="1.1"/><text transform="translate(370.01,154.40) rotate(-89.9)" font-size="2.85" text-anchor="end" fill="#000" stroke="#000" stroke-width="0.07">8017102858312</text><line x1="372.41" y1="148.40" x2="372.41" y2="151.10" stroke="#000" stroke-width="1.1"/><text transform="translate(373.51,154.40) rotate(-89.9)" font-size="2.85" text-anchor="end" fill="#000" stroke="#000" stroke-width="0.07">2017-02-5</text><line x1="375.92" y1="148.40" x2="375.92" y2="151.10" stroke="#000" stroke-width="1.1"/><text transform="translate(377.02,154.40) rotate(-89.9)" font-size="2.85" text-anchor="end" fill="#000" stroke="#000" stroke-width="0.07">2087-02-5</text><line x1="379.43" y1="148.40" x2="379.43" y2="151.10" stroke="#000" stroke-width="1.1"/><text transform="translate(380.53,154.40) rotate(-89.9)" font-size="2.85" text-anchor="end" fill="#000" stroke="#000" stroke-width="0.07">2017-82-5</text><line x1="382.94" y1="148.40" x2="382.94" y2="151.10" stroke="#000" stroke-width="1.1"/><text transform="translate(384.04,154.40) rotate(-89.9)" font-size="2.85" text-anchor="end" fill="#000" stroke="#000" stroke-width="0.07">30171</text><line x1="386.45" y1="148.40" x2="386.45" y2="151.10" stroke="#000" stroke-width="1.1"/><text transform="translate(387.55,154.40) rotate(-89.9)" font-size="2.85" text-anchor="end" fill="#000" stroke="#000" stroke-width="0.07">20171</text><line x1="389.96" y1="148.40" x2="389.96" y2="151.10" stroke="#000" stroke-width="1.1"/><text transform="translate(391.06,154.40) rotate(-89.9)" font-size="2.85" text-anchor="end" fill="#000" stroke="#000" stroke-width="0.07">2017</text><text x="312.40" y="183.30" font-size="5.1" text-anchor="middle" fill="#000" stroke="#000" stroke-width="0.08">Category</text><text transform="translate(211.60,125.00) rotate(-90)" font-size="5.15" text-anchor="middle" fill="#000" stroke="#000" stroke-width="0.1">SSD Scores</text><rect x="227.4" y="102.5" width="25.30" height="5.40" fill="#fff" fill-opacity="0.9" stroke="#c8c8c8" stroke-width="0.5" rx="0.6"/><rect x="228.50" y="104.35" width="6.2" height="1.7" fill="#1f5f98"/><text x="235.80" y="106.30" font-size="3.1" fill="#111" stroke="#111" stroke-width="0.05">Original R</text></g>
<g><rect x="28.36" y="203.80" width="1.75" height="38.60" fill="#62a6d6"/><rect x="28.36" y="203.80" width="0.9" height="38.60" fill="#1f4b74"/><rect x="31.87" y="216.65" width="1.75" height="25.75" fill="#62a6d6"/><rect x="31.87" y="216.65" width="0.9" height="25.75" fill="#1f4b74"/><rect x="35.38" y="203.12" width="1.75" height="39.28" fill="#62a6d6"/><rect x="35.38" y="203.12" width="0.9" height="39.28" fill="#1f4b74"/><rect x="38.89" y="198.02" width="1.75" height="44.38" fill="#62a6d6"/><rect x="38.89" y="198.02" width="0.9" height="44.38" fill="#1f4b74"/><rect x="42.40" y="199.82" width="1.75" height="42.58" fill="#62a6d6"/><rect x="42.40" y="199.82" width="0.9" height="42.58" fill="#1f4b74"/><rect x="45.91" y="199.82" width="1.75" height="42.58" fill="#62a6d6"/><rect x="45.91" y="199.82" width="0.9" height="42.58" fill="#1f4b74"/><rect x="49.42" y="199.11" width="1.75" height="43.29" fill="#62a6d6"/><rect x="49.42" y="199.11" width="0.9" height="43.29" fill="#1f4b74"/><rect x="52.93" y="199.11" width="1.75" height="43.29" fill="#62a6d6"/><rect x="52.93" y="199.11" width="0.9" height="43.29" fill="#1f4b74"/><rect x="56.44" y="198.62" width="1.75" height="43.78" fill="#62a6d6"/><rect x="56.44" y="198.62" width="0.9" height="43.78" fill="#1f4b74"/><rect x="59.95" y="198.02" width="1.75" height="44.38" fill="#62a6d6"/><rect x="59.95" y="198.02" width="0.9" height="44.38" fill="#1f4b74"/><rect x="63.46" y="197.50" width="1.75" height="44.90" fill="#62a6d6"/><rect x="63.46" y="197.50" width="0.9" height="44.90" fill="#1f4b74"/><rect x="66.97" y="198.62" width="1.75" height="43.78" fill="#62a6d6"/><rect x="66.97" y="198.62" width="0.9" height="43.78" fill="#1f4b74"/><rect x="70.48" y="199.82" width="1.75" height="42.58" fill="#62a6d6"/><rect x="70.48" y="199.82" width="0.9" height="42.58" fill="#1f4b74"/><rect x="73.99" y="231.38" width="1.75" height="11.02" fill="#62a6d6"/><rect x="73.99" y="231.38" width="0.9" height="11.02" fill="#1f4b74"/><rect x="77.49" y="202.00" width="1.75" height="40.40" fill="#62a6d6"/><rect x="77.49" y="202.00" width="0.9" height="40.40" fill="#1f4b74"/><rect x="81.00" y="206.04" width="1.75" height="36.36" fill="#62a6d6"/><rect x="81.00" y="206.04" width="0.9" height="36.36" fill="#1f4b74"/><rect x="84.51" y="204.73" width="1.75" height="37.67" fill="#62a6d6"/><rect x="84.51" y="204.73" width="0.9" height="37.67" fill="#1f4b74"/><rect x="88.02" y="203.80" width="1.75" height="38.60" fill="#62a6d6"/><rect x="88.02" y="203.80" width="0.9" height="38.60" fill="#1f4b74"/><rect x="91.53" y="205.41" width="1.75" height="36.99" fill="#62a6d6"/><rect x="91.53" y="205.41" width="0.9" height="36.99" fill="#1f4b74"/><rect x="95.04" y="207.62" width="1.75" height="34.78" fill="#62a6d6"/><rect x="95.04" y="207.62" width="0.9" height="34.78" fill="#1f4b74"/><rect x="98.55" y="209.23" width="1.75" height="33.17" fill="#62a6d6"/><rect x="98.55" y="209.23" width="0.9" height="33.17" fill="#1f4b74"/><rect x="102.06" y="212.15" width="1.75" height="30.25" fill="#62a6d6"/><rect x="102.06" y="212.15" width="0.9" height="30.25" fill="#1f4b74"/><rect x="105.57" y="214.44" width="1.75" height="27.96" fill="#62a6d6"/><rect x="105.57" y="214.44" width="0.9" height="27.96" fill="#1f4b74"/><rect x="109.08" y="216.01" width="1.75" height="26.39" fill="#62a6d6"/><rect x="109.08" y="216.01" width="0.9" height="26.39" fill="#1f4b74"/><rect x="112.59" y="203.12" width="1.75" height="39.28" fill="#62a6d6"/><rect x="112.59" y="203.12" width="0.9" height="39.28" fill="#1f4b74"/><rect x="116.10" y="204.73" width="1.75" height="37.67" fill="#62a6d6"/><rect x="116.10" y="204.73" width="0.9" height="37.67" fill="#1f4b74"/><rect x="119.61" y="217.85" width="1.75" height="24.55" fill="#62a6d6"/><rect x="119.61" y="217.85" width="0.9" height="24.55" fill="#1f4b74"/><rect x="123.12" y="210.62" width="1.75" height="31.78" fill="#62a6d6"/><rect x="123.12" y="210.62" width="0.9" height="31.78" fill="#1f4b74"/><rect x="126.63" y="207.02" width="1.75" height="35.38" fill="#62a6d6"/><rect x="126.63" y="207.02" width="0.9" height="35.38" fill="#1f4b74"/><rect x="130.14" y="203.80" width="1.75" height="38.60" fill="#62a6d6"/><rect x="130.14" y="203.80" width="0.9" height="38.60" fill="#1f4b74"/><rect x="133.65" y="200.20" width="1.75" height="42.20" fill="#62a6d6"/><rect x="133.65" y="200.20" width="0.9" height="42.20" fill="#1f4b74"/><rect x="137.16" y="200.20" width="1.75" height="42.20" fill="#62a6d6"/><rect x="137.16" y="200.20" width="0.9" height="42.20" fill="#1f4b74"/><rect x="140.67" y="200.91" width="1.75" height="41.49" fill="#62a6d6"/><rect x="140.67" y="200.91" width="0.9" height="41.49" fill="#1f4b74"/><rect x="144.18" y="199.30" width="1.75" height="43.10" fill="#62a6d6"/><rect x="144.18" y="199.30" width="0.9" height="43.10" fill="#1f4b74"/><rect x="147.69" y="200.20" width="1.75" height="42.20" fill="#62a6d6"/><rect x="147.69" y="200.20" width="0.9" height="42.20" fill="#1f4b74"/><rect x="151.20" y="200.20" width="1.75" height="42.20" fill="#62a6d6"/><rect x="151.20" y="200.20" width="0.9" height="42.20" fill="#1f4b74"/><rect x="154.71" y="200.20" width="1.75" height="42.20" fill="#62a6d6"/><rect x="154.71" y="200.20" width="0.9" height="42.20" fill="#1f4b74"/><rect x="158.22" y="200.20" width="1.75" height="42.20" fill="#62a6d6"/><rect x="158.22" y="200.20" width="0.9" height="42.20" fill="#1f4b74"/><rect x="161.73" y="198.62" width="1.75" height="43.78" fill="#62a6d6"/><rect x="161.73" y="198.62" width="0.9" height="43.78" fill="#1f4b74"/><rect x="165.24" y="199.30" width="1.75" height="43.10" fill="#62a6d6"/><rect x="165.24" y="199.30" width="0.9" height="43.10" fill="#1f4b74"/><rect x="168.75" y="199.82" width="1.75" height="42.58" fill="#62a6d6"/><rect x="168.75" y="199.82" width="0.9" height="42.58" fill="#1f4b74"/><rect x="172.26" y="199.82" width="1.75" height="42.58" fill="#62a6d6"/><rect x="172.26" y="199.82" width="0.9" height="42.58" fill="#1f4b74"/><rect x="175.77" y="198.62" width="1.75" height="43.78" fill="#62a6d6"/><rect x="175.77" y="198.62" width="0.9" height="43.78" fill="#1f4b74"/><rect x="179.28" y="212.15" width="1.75" height="30.25" fill="#62a6d6"/><rect x="179.28" y="212.15" width="0.9" height="30.25" fill="#1f4b74"/><rect x="182.79" y="202.52" width="1.75" height="39.88" fill="#62a6d6"/><rect x="182.79" y="202.52" width="0.9" height="39.88" fill="#1f4b74"/><path d="M20.20,195.60H192.00V242.40" fill="none" stroke="#777" stroke-width="1.1"/><path d="M20.20,195.40V242.40H192.00" fill="none" stroke="#333" stroke-width="1.1"/><line x1="17.80" y1="242.40" x2="20.20" y2="242.40" stroke="#000" stroke-width="1.0"/><text x="15.30" y="243.60" font-size="3.35" text-anchor="end" fill="#000" stroke="#000" stroke-width="0.05">0</text><line x1="17.80" y1="234.90" x2="20.20" y2="234.90" stroke="#000" stroke-width="1.0"/><text x="15.30" y="236.10" font-size="3.35" text-anchor="end" fill="#000" stroke="#000" stroke-width="0.05">20</text><line x1="17.80" y1="227.41" x2="20.20" y2="227.41" stroke="#000" stroke-width="1.0"/><text x="15.30" y="228.61" font-size="3.35" text-anchor="end" fill="#000" stroke="#000" stroke-width="0.05">40</text><line x1="17.80" y1="219.91" x2="20.20" y2="219.91" stroke="#000" stroke-width="1.0"/><text x="15.30" y="221.11" font-size="3.35" text-anchor="end" fill="#000" stroke="#000" stroke-width="0.05">60</text><line x1="17.80" y1="212.42" x2="20.20" y2="212.42" stroke="#000" stroke-width="1.0"/><text x="15.30" y="213.62" font-size="3.35" text-anchor="end" fill="#000" stroke="#000" stroke-width="0.05">80</text><line x1="17.80" y1="204.92" x2="20.20" y2="204.92" stroke="#000" stroke-width="1.0"/><text x="15.30" y="206.12" font-size="3.35" text-anchor="end" fill="#000" stroke="#000" stroke-width="0.05">100</text><line x1="17.80" y1="197.42" x2="20.20" y2="197.42" stroke="#000" stroke-width="1.0"/><text x="15.30" y="198.62" font-size="3.35" text-anchor="end" fill="#000" stroke="#000" stroke-width="0.05">120</text><line x1="29.24" y1="242.40" x2="29.24" y2="245.10" stroke="#000" stroke-width="1.1"/><text transform="translate(30.34,248.40) rotate(-89.9)" font-size="2.85" text-anchor="end" fill="#000" stroke="#000" stroke-width="0.07">2017102-5831741</text><line x1="32.75" y1="242.40" x2="32.75" y2="245.10" stroke="#000" stroke-width="1.1"/><text transform="translate(33.85,248.40) rotate(-89.9)" font-size="2.85" text-anchor="end" fill="#000" stroke="#000" stroke-width="0.07">991710-658317</text><line x1="36.26" y1="242.40" x2="36.26" y2="245.10" stroke="#000" stroke-width="1.1"/><text transform="translate(37.36,248.40) rotate(-89.9)" font-size="2.85" text-anchor="end" fill="#000" stroke="#000" stroke-width="0.07">201710-658717</text><line x1="39.77" y1="242.40" x2="39.77" y2="245.10" stroke="#000" stroke-width="1.1"/><text transform="translate(40.87,248.40) rotate(-89.9)" font-size="2.85" text-anchor="end" fill="#000" stroke="#000" stroke-width="0.07">231710-658317</text><line x1="43.28" y1="242.40" x2="43.28" y2="245.10" stroke="#000" stroke-width="1.1"/><text transform="translate(44.38,248.40) rotate(-89.9)" font-size="2.85" text-anchor="end" fill="#000" stroke="#000" stroke-width="0.07">601950-651417</text><line x1="46.79" y1="242.40" x2="46.79" y2="245.10" stroke="#000" stroke-width="1.1"/><text transform="translate(47.89,248.40) rotate(-89.9)" font-size="2.85" text-anchor="end" fill="#000" stroke="#000" stroke-width="0.07">201710-658317</text><line x1="50.29" y1="242.40" x2="50.29" y2="245.10" stroke="#000" stroke-width="1.1"/><text transform="translate(51.39,248.40) rotate(-89.9)" font-size="2.85" text-anchor="end" fill="#000" stroke="#000" stroke-width="0.07">201710-664362</text><line x1="53.80" y1="242.40" x2="53.80" y2="245.10" stroke="#000" stroke-width="1.1"/><text transform="translate(54.90,248.40) rotate(-89.9)" font-size="2.85" text-anchor="end" fill="#000" stroke="#000" stroke-width="0.07">201720-658380</text><line x1="57.31" y1="242.40" x2="57.31" y2="245.10" stroke="#000" stroke-width="1.1"/><text transform="translate(58.41,248.40) rotate(-89.9)" font-size="2.85" text-anchor="end" fill="#000" stroke="#000" stroke-width="0.07">281710-658317</text><line x1="60.82" y1="242.40" x2="60.82" y2="245.10" stroke="#000" stroke-width="1.1"/><text transform="translate(61.92,248.40) rotate(-89.9)" font-size="2.85" text-anchor="end" fill="#000" stroke="#000" stroke-width="0.07">201719-659317</text><line x1="64.33" y1="242.40" x2="64.33" y2="245.10" stroke="#000" stroke-width="1.1"/><text transform="translate(65.43,248.40) rotate(-89.9)" font-size="2.85" text-anchor="end" fill="#000" stroke="#000" stroke-width="0.07">201710-658517</text><line x1="67.84" y1="242.40" x2="67.84" y2="245.10" stroke="#000" stroke-width="1.1"/><text transform="translate(68.94,248.40) rotate(-89.9)" font-size="2.85" text-anchor="end" fill="#000" stroke="#000" stroke-width="0.07">201710-688317</text><line x1="71.35" y1="242.40" x2="71.35" y2="245.10" stroke="#000" stroke-width="1.1"/><text transform="translate(72.45,248.40) rotate(-89.9)" font-size="2.85" text-anchor="end" fill="#000" stroke="#000" stroke-width="0.07">361710-658317</text><line x1="74.86" y1="242.40" x2="74.86" y2="245.10" stroke="#000" stroke-width="1.1"/><text transform="translate(75.96,248.40) rotate(-89.9)" font-size="2.85" text-anchor="end" fill="#000" stroke="#000" stroke-width="0.07">551</text><line x1="78.37" y1="242.40" x2="78.37" y2="245.10" stroke="#000" stroke-width="1.1"/><text transform="translate(79.47,248.40) rotate(-89.9)" font-size="2.85" text-anchor="end" fill="#000" stroke="#000" stroke-width="0.07">201</text><line x1="81.88" y1="242.40" x2="81.88" y2="245.10" stroke="#000" stroke-width="1.1"/><text transform="translate(82.98,248.40) rotate(-89.9)" font-size="2.85" text-anchor="end" fill="#000" stroke="#000" stroke-width="0.07">297</text><line x1="85.39" y1="242.40" x2="85.39" y2="245.10" stroke="#000" stroke-width="1.1"/><text transform="translate(86.49,248.40) rotate(-89.9)" font-size="2.85" text-anchor="end" fill="#000" stroke="#000" stroke-width="0.07">511</text><line x1="88.90" y1="242.40" x2="88.90" y2="245.10" stroke="#000" stroke-width="1.1"/><text transform="translate(90.00,248.40) rotate(-89.9)" font-size="2.85" text-anchor="end" fill="#000" stroke="#000" stroke-width="0.07">301</text><line x1="92.41" y1="242.40" x2="92.41" y2="245.10" stroke="#000" stroke-width="1.1"/><text transform="translate(93.51,248.40) rotate(-89.9)" font-size="2.85" text-anchor="end" fill="#000" stroke="#000" stroke-width="0.07">506</text><line x1="95.92" y1="242.40" x2="95.92" y2="245.10" stroke="#000" stroke-width="1.1"/><text transform="translate(97.02,248.40) rotate(-89.9)" font-size="2.85" text-anchor="end" fill="#000" stroke="#000" stroke-width="0.07">201</text><line x1="99.43" y1="242.40" x2="99.43" y2="245.10" stroke="#000" stroke-width="1.1"/><text transform="translate(100.53,248.40) rotate(-89.9)" font-size="2.85" text-anchor="end" fill="#000" stroke="#000" stroke-width="0.07">201</text><line x1="102.94" y1="242.40" x2="102.94" y2="245.10" stroke="#000" stroke-width="1.1"/><text transform="translate(104.04,248.40) rotate(-89.9)" font-size="2.85" text-anchor="end" fill="#000" stroke="#000" stroke-width="0.07">201</text><line x1="106.45" y1="242.40" x2="106.45" y2="245.10" stroke="#000" stroke-width="1.1"/><text transform="translate(107.55,248.40) rotate(-89.9)" font-size="2.85" text-anchor="end" fill="#000" stroke="#000" stroke-width="0.07">221</text><line x1="109.96" y1="242.40" x2="109.96" y2="245.10" stroke="#000" stroke-width="1.1"/><text transform="translate(111.06,248.40) rotate(-89.9)" font-size="2.85" text-anchor="end" fill="#000" stroke="#000" stroke-width="0.07">201</text><line x1="113.47" y1="242.40" x2="113.47" y2="245.10" stroke="#000" stroke-width="1.1"/><text transform="translate(114.57,248.40) rotate(-89.9)" font-size="2.85" text-anchor="end" fill="#000" stroke="#000" stroke-width="0.07">263</text><line x1="116.98" y1="242.40" x2="116.98" y2="245.10" stroke="#000" stroke-width="1.1"/><text transform="translate(118.08,248.40) rotate(-89.9)" font-size="2.85" text-anchor="end" fill="#000" stroke="#000" stroke-width="0.07">301</text><line x1="120.49" y1="242.40" x2="120.49" y2="245.10" stroke="#000" stroke-width="1.1"/><text transform="translate(121.59,248.40) rotate(-89.9)" font-size="2.85" text-anchor="end" fill="#000" stroke="#000" stroke-width="0.07">251</text><line x1="124.00" y1="242.40" x2="124.00" y2="245.10" stroke="#000" stroke-width="1.1"/><text transform="translate(125.10,248.40) rotate(-89.9)" font-size="2.85" text-anchor="end" fill="#000" stroke="#000" stroke-width="0.07">205</text><line x1="127.51" y1="242.40" x2="127.51" y2="245.10" stroke="#000" stroke-width="1.1"/><text transform="translate(128.61,248.40) rotate(-89.9)" font-size="2.85" text-anchor="end" fill="#000" stroke="#000" stroke-width="0.07">981</text><line x1="131.02" y1="242.40" x2="131.02" y2="245.10" stroke="#000" stroke-width="1.1"/><text transform="translate(132.12,248.40) rotate(-89.9)" font-size="2.85" text-anchor="end" fill="#000" stroke="#000" stroke-width="0.07">801</text><line x1="134.53" y1="242.40" x2="134.53" y2="245.10" stroke="#000" stroke-width="1.1"/><text transform="translate(135.63,248.40) rotate(-89.9)" font-size="2.85" text-anchor="end" fill="#000" stroke="#000" stroke-width="0.07">2212102658310</text><line x1="138.04" y1="242.40" x2="138.04" y2="245.10" stroke="#000" stroke-width="1.1"/><text transform="translate(139.14,248.40) rotate(-89.9)" font-size="2.85" text-anchor="end" fill="#000" stroke="#000" stroke-width="0.07">2087112658317</text><line x1="141.55" y1="242.40" x2="141.55" y2="245.10" stroke="#000" stroke-width="1.1"/><text transform="translate(142.65,248.40) rotate(-89.9)" font-size="2.85" text-anchor="end" fill="#000" stroke="#000" stroke-width="0.07">2843202658317</text><line x1="145.06" y1="242.40" x2="145.06" y2="245.10" stroke="#000" stroke-width="1.1"/><text transform="translate(146.16,248.40) rotate(-89.9)" font-size="2.85" text-anchor="end" fill="#000" stroke="#000" stroke-width="0.07">5077623658317</text><line x1="148.57" y1="242.40" x2="148.57" y2="245.10" stroke="#000" stroke-width="1.1"/><text transform="translate(149.67,248.40) rotate(-89.9)" font-size="2.85" text-anchor="end" fill="#000" stroke="#000" stroke-width="0.07">2017102653117</text><line x1="152.08" y1="242.40" x2="152.08" y2="245.10" stroke="#000" stroke-width="1.1"/><text transform="translate(153.18,248.40) rotate(-89.9)" font-size="2.85" text-anchor="end" fill="#000" stroke="#000" stroke-width="0.07">2017402658327</text><line x1="155.59" y1="242.40" x2="155.59" y2="245.10" stroke="#000" stroke-width="1.1"/><text transform="translate(156.69,248.40) rotate(-89.9)" font-size="2.85" text-anchor="end" fill="#000" stroke="#000" stroke-width="0.07">2117102664317</text><line x1="159.10" y1="242.40" x2="159.10" y2="245.10" stroke="#000" stroke-width="1.1"/><text transform="translate(160.20,248.40) rotate(-89.9)" font-size="2.85" text-anchor="end" fill="#000" stroke="#000" stroke-width="0.07">2014102654317</text><line x1="162.61" y1="242.40" x2="162.61" y2="245.10" stroke="#000" stroke-width="1.1"/><text transform="translate(163.71,248.40) rotate(-89.9)" font-size="2.85" text-anchor="end" fill="#000" stroke="#000" stroke-width="0.07">8017102858312</text><line x1="166.11" y1="242.40" x2="166.11" y2="245.10" stroke="#000" stroke-width="1.1"/><text transform="translate(167.21,248.40) rotate(-89.9)" font-size="2.85" text-anchor="end" fill="#000" stroke="#000" stroke-width="0.07">2017-02-5</text><line x1="169.62" y1="242.40" x2="169.62" y2="245.10" stroke="#000" stroke-width="1.1"/><text transform="translate(170.72,248.40) rotate(-89.9)" font-size="2.85" text-anchor="end" fill="#000" stroke="#000" stroke-width="0.07">2087-02-5</text><line x1="173.13" y1="242.40" x2="173.13" y2="245.10" stroke="#000" stroke-width="1.1"/><text transform="translate(174.23,248.40) rotate(-89.9)" font-size="2.85" text-anchor="end" fill="#000" stroke="#000" stroke-width="0.07">2017-82-5</text><line x1="176.64" y1="242.40" x2="176.64" y2="245.10" stroke="#000" stroke-width="1.1"/><text transform="translate(177.74,248.40) rotate(-89.9)" font-size="2.85" text-anchor="end" fill="#000" stroke="#000" stroke-width="0.07">30171</text><line x1="180.15" y1="242.40" x2="180.15" y2="245.10" stroke="#000" stroke-width="1.1"/><text transform="translate(181.25,248.40) rotate(-89.9)" font-size="2.85" text-anchor="end" fill="#000" stroke="#000" stroke-width="0.07">20171</text><line x1="183.66" y1="242.40" x2="183.66" y2="245.10" stroke="#000" stroke-width="1.1"/><text transform="translate(184.76,248.40) rotate(-89.9)" font-size="2.85" text-anchor="end" fill="#000" stroke="#000" stroke-width="0.07">2017</text><text x="106.10" y="277.30" font-size="5.1" text-anchor="middle" fill="#000" stroke="#000" stroke-width="0.08">Category</text><text transform="translate(5.30,217.70) rotate(-90)" font-size="5.15" text-anchor="middle" fill="#000" stroke="#000" stroke-width="0.1">SSD Scores</text><rect x="94.8" y="197.4" width="21.40" height="4.90" fill="#fff" fill-opacity="0.9" stroke="#c8c8c8" stroke-width="0.5" rx="0.6"/><rect x="95.90" y="199.00" width="5.2" height="1.7" fill="#1f5f98"/><text x="103.20" y="200.95" font-size="3.1" fill="#111" stroke="#111" stroke-width="0.05">Original C</text></g>
<g><rect x="234.66" y="217.17" width="1.75" height="25.23" fill="#62a6d6"/><rect x="234.66" y="217.17" width="0.9" height="25.23" fill="#1f4b74"/><rect x="238.17" y="204.58" width="1.75" height="37.82" fill="#62a6d6"/><rect x="238.17" y="204.58" width="0.9" height="37.82" fill="#1f4b74"/><rect x="241.68" y="197.86" width="1.75" height="44.54" fill="#62a6d6"/><rect x="241.68" y="197.86" width="0.9" height="44.54" fill="#1f4b74"/><rect x="245.19" y="199.18" width="1.75" height="43.22" fill="#62a6d6"/><rect x="245.19" y="199.18" width="0.9" height="43.22" fill="#1f4b74"/><rect x="248.70" y="206.42" width="1.75" height="35.98" fill="#62a6d6"/><rect x="248.70" y="206.42" width="0.9" height="35.98" fill="#1f4b74"/><rect x="252.21" y="202.96" width="1.75" height="39.44" fill="#62a6d6"/><rect x="252.21" y="202.96" width="0.9" height="39.44" fill="#1f4b74"/><rect x="255.72" y="201.50" width="1.75" height="40.90" fill="#62a6d6"/><rect x="255.72" y="201.50" width="0.9" height="40.90" fill="#1f4b74"/><rect x="259.23" y="200.80" width="1.75" height="41.60" fill="#62a6d6"/><rect x="259.23" y="200.80" width="0.9" height="41.60" fill="#1f4b74"/><rect x="262.74" y="200.28" width="1.75" height="42.12" fill="#62a6d6"/><rect x="262.74" y="200.28" width="0.9" height="42.12" fill="#1f4b74"/><rect x="266.25" y="199.66" width="1.75" height="42.74" fill="#62a6d6"/><rect x="266.25" y="199.66" width="0.9" height="42.74" fill="#1f4b74"/><rect x="269.76" y="198.48" width="1.75" height="43.92" fill="#62a6d6"/><rect x="269.76" y="198.48" width="0.9" height="43.92" fill="#1f4b74"/><rect x="273.27" y="197.86" width="1.75" height="44.54" fill="#62a6d6"/><rect x="273.27" y="197.86" width="0.9" height="44.54" fill="#1f4b74"/><rect x="276.78" y="198.96" width="1.75" height="43.44" fill="#62a6d6"/><rect x="276.78" y="198.96" width="0.9" height="43.44" fill="#1f4b74"/><rect x="280.29" y="240.56" width="1.75" height="1.84" fill="#62a6d6"/><rect x="280.29" y="240.56" width="0.9" height="1.84" fill="#1f4b74"/><rect x="283.79" y="237.48" width="1.75" height="4.92" fill="#62a6d6"/><rect x="283.79" y="237.48" width="0.9" height="4.92" fill="#1f4b74"/><rect x="287.30" y="213.58" width="1.75" height="28.82" fill="#62a6d6"/><rect x="287.30" y="213.58" width="0.9" height="28.82" fill="#1f4b74"/><rect x="290.81" y="213.58" width="1.75" height="28.82" fill="#62a6d6"/><rect x="290.81" y="213.58" width="0.9" height="28.82" fill="#1f4b74"/><rect x="294.32" y="213.58" width="1.75" height="28.82" fill="#62a6d6"/><rect x="294.32" y="213.58" width="0.9" height="28.82" fill="#1f4b74"/><rect x="297.83" y="215.38" width="1.75" height="27.02" fill="#62a6d6"/><rect x="297.83" y="215.38" width="0.9" height="27.02" fill="#1f4b74"/><rect x="301.34" y="210.45" width="1.75" height="31.95" fill="#62a6d6"/><rect x="301.34" y="210.45" width="0.9" height="31.95" fill="#1f4b74"/><rect x="304.85" y="205.97" width="1.75" height="36.43" fill="#62a6d6"/><rect x="304.85" y="205.97" width="0.9" height="36.43" fill="#1f4b74"/><rect x="308.36" y="203.70" width="1.75" height="38.70" fill="#62a6d6"/><rect x="308.36" y="203.70" width="0.9" height="38.70" fill="#1f4b74"/><rect x="311.87" y="202.38" width="1.75" height="40.02" fill="#62a6d6"/><rect x="311.87" y="202.38" width="0.9" height="40.02" fill="#1f4b74"/><rect x="315.38" y="202.38" width="1.75" height="40.02" fill="#62a6d6"/><rect x="315.38" y="202.38" width="0.9" height="40.02" fill="#1f4b74"/><rect x="318.89" y="215.38" width="1.75" height="27.02" fill="#62a6d6"/><rect x="318.89" y="215.38" width="0.9" height="27.02" fill="#1f4b74"/><rect x="322.40" y="216.48" width="1.75" height="25.92" fill="#62a6d6"/><rect x="322.40" y="216.48" width="0.9" height="25.92" fill="#1f4b74"/><rect x="325.91" y="219.49" width="1.75" height="22.91" fill="#62a6d6"/><rect x="325.91" y="219.49" width="0.9" height="22.91" fill="#1f4b74"/><rect x="329.42" y="219.49" width="1.75" height="22.91" fill="#62a6d6"/><rect x="329.42" y="219.49" width="0.9" height="22.91" fill="#1f4b74"/><rect x="332.93" y="219.49" width="1.75" height="22.91" fill="#62a6d6"/><rect x="332.93" y="219.49" width="0.9" height="22.91" fill="#1f4b74"/><rect x="336.44" y="218.09" width="1.75" height="24.31" fill="#62a6d6"/><rect x="336.44" y="218.09" width="0.9" height="24.31" fill="#1f4b74"/><rect x="339.95" y="206.89" width="1.75" height="35.51" fill="#62a6d6"/><rect x="339.95" y="206.89" width="0.9" height="35.51" fill="#1f4b74"/><rect x="343.46" y="208.69" width="1.75" height="33.71" fill="#62a6d6"/><rect x="343.46" y="208.69" width="0.9" height="33.71" fill="#1f4b74"/><rect x="346.97" y="207.52" width="1.75" height="34.88" fill="#62a6d6"/><rect x="346.97" y="207.52" width="0.9" height="34.88" fill="#1f4b74"/><rect x="350.48" y="199.66" width="1.75" height="42.74" fill="#62a6d6"/><rect x="350.48" y="199.66" width="0.9" height="42.74" fill="#1f4b74"/><rect x="353.99" y="200.80" width="1.75" height="41.60" fill="#62a6d6"/><rect x="353.99" y="200.80" width="0.9" height="41.60" fill="#1f4b74"/><rect x="357.50" y="199.18" width="1.75" height="43.22" fill="#62a6d6"/><rect x="357.50" y="199.18" width="0.9" height="43.22" fill="#1f4b74"/><rect x="361.01" y="200.06" width="1.75" height="42.34" fill="#62a6d6"/><rect x="361.01" y="200.06" width="0.9" height="42.34" fill="#1f4b74"/><rect x="364.52" y="206.42" width="1.75" height="35.98" fill="#62a6d6"/><rect x="364.52" y="206.42" width="0.9" height="35.98" fill="#1f4b74"/><rect x="368.03" y="200.80" width="1.75" height="41.60" fill="#62a6d6"/><rect x="368.03" y="200.80" width="0.9" height="41.60" fill="#1f4b74"/><rect x="371.54" y="199.66" width="1.75" height="42.74" fill="#62a6d6"/><rect x="371.54" y="199.66" width="0.9" height="42.74" fill="#1f4b74"/><rect x="375.05" y="198.48" width="1.75" height="43.92" fill="#62a6d6"/><rect x="375.05" y="198.48" width="0.9" height="43.92" fill="#1f4b74"/><rect x="378.56" y="200.80" width="1.75" height="41.60" fill="#62a6d6"/><rect x="378.56" y="200.80" width="0.9" height="41.60" fill="#1f4b74"/><rect x="382.07" y="206.42" width="1.75" height="35.98" fill="#62a6d6"/><rect x="382.07" y="206.42" width="0.9" height="35.98" fill="#1f4b74"/><rect x="385.58" y="201.86" width="1.75" height="40.54" fill="#62a6d6"/><rect x="385.58" y="201.86" width="0.9" height="40.54" fill="#1f4b74"/><rect x="389.09" y="202.96" width="1.75" height="39.44" fill="#62a6d6"/><rect x="389.09" y="202.96" width="0.9" height="39.44" fill="#1f4b74"/><path d="M226.50,195.60H398.30V242.40" fill="none" stroke="#777" stroke-width="1.1"/><path d="M226.50,195.40V242.40H398.30" fill="none" stroke="#333" stroke-width="1.1"/><line x1="224.10" y1="242.40" x2="226.50" y2="242.40" stroke="#000" stroke-width="1.0"/><text x="221.60" y="243.60" font-size="3.35" text-anchor="end" fill="#000" stroke="#000" stroke-width="0.05">0</text><line x1="224.10" y1="235.06" x2="226.50" y2="235.06" stroke="#000" stroke-width="1.0"/><text x="221.60" y="236.26" font-size="3.35" text-anchor="end" fill="#000" stroke="#000" stroke-width="0.05">20</text><line x1="224.10" y1="227.71" x2="226.50" y2="227.71" stroke="#000" stroke-width="1.0"/><text x="221.60" y="228.91" font-size="3.35" text-anchor="end" fill="#000" stroke="#000" stroke-width="0.05">40</text><line x1="224.10" y1="220.37" x2="226.50" y2="220.37" stroke="#000" stroke-width="1.0"/><text x="221.60" y="221.57" font-size="3.35" text-anchor="end" fill="#000" stroke="#000" stroke-width="0.05">60</text><line x1="224.10" y1="213.03" x2="226.50" y2="213.03" stroke="#000" stroke-width="1.0"/><text x="221.60" y="214.22" font-size="3.35" text-anchor="end" fill="#000" stroke="#000" stroke-width="0.05">80</text><line x1="224.10" y1="205.68" x2="226.50" y2="205.68" stroke="#000" stroke-width="1.0"/><text x="221.60" y="206.88" font-size="3.35" text-anchor="end" fill="#000" stroke="#000" stroke-width="0.05">100</text><line x1="224.10" y1="198.34" x2="226.50" y2="198.34" stroke="#000" stroke-width="1.0"/><text x="221.60" y="199.54" font-size="3.35" text-anchor="end" fill="#000" stroke="#000" stroke-width="0.05">120</text><line x1="235.54" y1="242.40" x2="235.54" y2="245.10" stroke="#000" stroke-width="1.1"/><text transform="translate(236.64,248.40) rotate(-89.9)" font-size="2.85" text-anchor="end" fill="#000" stroke="#000" stroke-width="0.07">2017102-5831741</text><line x1="239.05" y1="242.40" x2="239.05" y2="245.10" stroke="#000" stroke-width="1.1"/><text transform="translate(240.15,248.40) rotate(-89.9)" font-size="2.85" text-anchor="end" fill="#000" stroke="#000" stroke-width="0.07">991710-658317</text><line x1="242.56" y1="242.40" x2="242.56" y2="245.10" stroke="#000" stroke-width="1.1"/><text transform="translate(243.66,248.40) rotate(-89.9)" font-size="2.85" text-anchor="end" fill="#000" stroke="#000" stroke-width="0.07">201710-658717</text><line x1="246.07" y1="242.40" x2="246.07" y2="245.10" stroke="#000" stroke-width="1.1"/><text transform="translate(247.17,248.40) rotate(-89.9)" font-size="2.85" text-anchor="end" fill="#000" stroke="#000" stroke-width="0.07">231710-658317</text><line x1="249.58" y1="242.40" x2="249.58" y2="245.10" stroke="#000" stroke-width="1.1"/><text transform="translate(250.68,248.40) rotate(-89.9)" font-size="2.85" text-anchor="end" fill="#000" stroke="#000" stroke-width="0.07">601950-651417</text><line x1="253.09" y1="242.40" x2="253.09" y2="245.10" stroke="#000" stroke-width="1.1"/><text transform="translate(254.19,248.40) rotate(-89.9)" font-size="2.85" text-anchor="end" fill="#000" stroke="#000" stroke-width="0.07">201710-658317</text><line x1="256.59" y1="242.40" x2="256.59" y2="245.10" stroke="#000" stroke-width="1.1"/><text transform="translate(257.69,248.40) rotate(-89.9)" font-size="2.85" text-anchor="end" fill="#000" stroke="#000" stroke-width="0.07">201710-664362</text><line x1="260.10" y1="242.40" x2="260.10" y2="245.10" stroke="#000" stroke-width="1.1"/><text transform="translate(261.20,248.40) rotate(-89.9)" font-size="2.85" text-anchor="end" fill="#000" stroke="#000" stroke-width="0.07">201720-658380</text><line x1="263.61" y1="242.40" x2="263.61" y2="245.10" stroke="#000" stroke-width="1.1"/><text transform="translate(264.71,248.40) rotate(-89.9)" font-size="2.85" text-anchor="end" fill="#000" stroke="#000" stroke-width="0.07">281710-658317</text><line x1="267.12" y1="242.40" x2="267.12" y2="245.10" stroke="#000" stroke-width="1.1"/><text transform="translate(268.22,248.40) rotate(-89.9)" font-size="2.85" text-anchor="end" fill="#000" stroke="#000" stroke-width="0.07">201719-659317</text><line x1="270.63" y1="242.40" x2="270.63" y2="245.10" stroke="#000" stroke-width="1.1"/><text transform="translate(271.73,248.40) rotate(-89.9)" font-size="2.85" text-anchor="end" fill="#000" stroke="#000" stroke-width="0.07">201710-658517</text><line x1="274.14" y1="242.40" x2="274.14" y2="245.10" stroke="#000" stroke-width="1.1"/><text transform="translate(275.24,248.40) rotate(-89.9)" font-size="2.85" text-anchor="end" fill="#000" stroke="#000" stroke-width="0.07">201710-688317</text><line x1="277.65" y1="242.40" x2="277.65" y2="245.10" stroke="#000" stroke-width="1.1"/><text transform="translate(278.75,248.40) rotate(-89.9)" font-size="2.85" text-anchor="end" fill="#000" stroke="#000" stroke-width="0.07">361710-658317</text><line x1="281.16" y1="242.40" x2="281.16" y2="245.10" stroke="#000" stroke-width="1.1"/><text transform="translate(282.26,248.40) rotate(-89.9)" font-size="2.85" text-anchor="end" fill="#000" stroke="#000" stroke-width="0.07">551</text><line x1="284.67" y1="242.40" x2="284.67" y2="245.10" stroke="#000" stroke-width="1.1"/><text transform="translate(285.77,248.40) rotate(-89.9)" font-size="2.85" text-anchor="end" fill="#000" stroke="#000" stroke-width="0.07">201</text><line x1="288.18" y1="242.40" x2="288.18" y2="245.10" stroke="#000" stroke-width="1.1"/><text transform="translate(289.28,248.40) rotate(-89.9)" font-size="2.85" text-anchor="end" fill="#000" stroke="#000" stroke-width="0.07">297</text><line x1="291.69" y1="242.40" x2="291.69" y2="245.10" stroke="#000" stroke-width="1.1"/><text transform="translate(292.79,248.40) rotate(-89.9)" font-size="2.85" text-anchor="end" fill="#000" stroke="#000" stroke-width="0.07">511</text><line x1="295.20" y1="242.40" x2="295.20" y2="245.10" stroke="#000" stroke-width="1.1"/><text transform="translate(296.30,248.40) rotate(-89.9)" font-size="2.85" text-anchor="end" fill="#000" stroke="#000" stroke-width="0.07">301</text><line x1="298.71" y1="242.40" x2="298.71" y2="245.10" stroke="#000" stroke-width="1.1"/><text transform="translate(299.81,248.40) rotate(-89.9)" font-size="2.85" text-anchor="end" fill="#000" stroke="#000" stroke-width="0.07">506</text><line x1="302.22" y1="242.40" x2="302.22" y2="245.10" stroke="#000" stroke-width="1.1"/><text transform="translate(303.32,248.40) rotate(-89.9)" font-size="2.85" text-anchor="end" fill="#000" stroke="#000" stroke-width="0.07">201</text><line x1="305.73" y1="242.40" x2="305.73" y2="245.10" stroke="#000" stroke-width="1.1"/><text transform="translate(306.83,248.40) rotate(-89.9)" font-size="2.85" text-anchor="end" fill="#000" stroke="#000" stroke-width="0.07">201</text><line x1="309.24" y1="242.40" x2="309.24" y2="245.10" stroke="#000" stroke-width="1.1"/><text transform="translate(310.34,248.40) rotate(-89.9)" font-size="2.85" text-anchor="end" fill="#000" stroke="#000" stroke-width="0.07">201</text><line x1="312.75" y1="242.40" x2="312.75" y2="245.10" stroke="#000" stroke-width="1.1"/><text transform="translate(313.85,248.40) rotate(-89.9)" font-size="2.85" text-anchor="end" fill="#000" stroke="#000" stroke-width="0.07">221</text><line x1="316.26" y1="242.40" x2="316.26" y2="245.10" stroke="#000" stroke-width="1.1"/><text transform="translate(317.36,248.40) rotate(-89.9)" font-size="2.85" text-anchor="end" fill="#000" stroke="#000" stroke-width="0.07">201</text><line x1="319.77" y1="242.40" x2="319.77" y2="245.10" stroke="#000" stroke-width="1.1"/><text transform="translate(320.87,248.40) rotate(-89.9)" font-size="2.85" text-anchor="end" fill="#000" stroke="#000" stroke-width="0.07">263</text><line x1="323.28" y1="242.40" x2="323.28" y2="245.10" stroke="#000" stroke-width="1.1"/><text transform="translate(324.38,248.40) rotate(-89.9)" font-size="2.85" text-anchor="end" fill="#000" stroke="#000" stroke-width="0.07">301</text><line x1="326.79" y1="242.40" x2="326.79" y2="245.10" stroke="#000" stroke-width="1.1"/><text transform="translate(327.89,248.40) rotate(-89.9)" font-size="2.85" text-anchor="end" fill="#000" stroke="#000" stroke-width="0.07">251</text><line x1="330.30" y1="242.40" x2="330.30" y2="245.10" stroke="#000" stroke-width="1.1"/><text transform="translate(331.40,248.40) rotate(-89.9)" font-size="2.85" text-anchor="end" fill="#000" stroke="#000" stroke-width="0.07">205</text><line x1="333.81" y1="242.40" x2="333.81" y2="245.10" stroke="#000" stroke-width="1.1"/><text transform="translate(334.91,248.40) rotate(-89.9)" font-size="2.85" text-anchor="end" fill="#000" stroke="#000" stroke-width="0.07">981</text><line x1="337.32" y1="242.40" x2="337.32" y2="245.10" stroke="#000" stroke-width="1.1"/><text transform="translate(338.42,248.40) rotate(-89.9)" font-size="2.85" text-anchor="end" fill="#000" stroke="#000" stroke-width="0.07">801</text><line x1="340.83" y1="242.40" x2="340.83" y2="245.10" stroke="#000" stroke-width="1.1"/><text transform="translate(341.93,248.40) rotate(-89.9)" font-size="2.85" text-anchor="end" fill="#000" stroke="#000" stroke-width="0.07">2212102658310</text><line x1="344.34" y1="242.40" x2="344.34" y2="245.10" stroke="#000" stroke-width="1.1"/><text transform="translate(345.44,248.40) rotate(-89.9)" font-size="2.85" text-anchor="end" fill="#000" stroke="#000" stroke-width="0.07">2087112658317</text><line x1="347.85" y1="242.40" x2="347.85" y2="245.10" stroke="#000" stroke-width="1.1"/><text transform="translate(348.95,248.40) rotate(-89.9)" font-size="2.85" text-anchor="end" fill="#000" stroke="#000" stroke-width="0.07">2843202658317</text><line x1="351.36" y1="242.40" x2="351.36" y2="245.10" stroke="#000" stroke-width="1.1"/><text transform="translate(352.46,248.40) rotate(-89.9)" font-size="2.85" text-anchor="end" fill="#000" stroke="#000" stroke-width="0.07">5077623658317</text><line x1="354.87" y1="242.40" x2="354.87" y2="245.10" stroke="#000" stroke-width="1.1"/><text transform="translate(355.97,248.40) rotate(-89.9)" font-size="2.85" text-anchor="end" fill="#000" stroke="#000" stroke-width="0.07">2017102653117</text><line x1="358.38" y1="242.40" x2="358.38" y2="245.10" stroke="#000" stroke-width="1.1"/><text transform="translate(359.48,248.40) rotate(-89.9)" font-size="2.85" text-anchor="end" fill="#000" stroke="#000" stroke-width="0.07">2017402658327</text><line x1="361.89" y1="242.40" x2="361.89" y2="245.10" stroke="#000" stroke-width="1.1"/><text transform="translate(362.99,248.40) rotate(-89.9)" font-size="2.85" text-anchor="end" fill="#000" stroke="#000" stroke-width="0.07">2117102664317</text><line x1="365.40" y1="242.40" x2="365.40" y2="245.10" stroke="#000" stroke-width="1.1"/><text transform="translate(366.50,248.40) rotate(-89.9)" font-size="2.85" text-anchor="end" fill="#000" stroke="#000" stroke-width="0.07">2014102654317</text><line x1="368.91" y1="242.40" x2="368.91" y2="245.10" stroke="#000" stroke-width="1.1"/><text transform="translate(370.01,248.40) rotate(-89.9)" font-size="2.85" text-anchor="end" fill="#000" stroke="#000" stroke-width="0.07">8017102858312</text><line x1="372.41" y1="242.40" x2="372.41" y2="245.10" stroke="#000" stroke-width="1.1"/><text transform="translate(373.51,248.40) rotate(-89.9)" font-size="2.85" text-anchor="end" fill="#000" stroke="#000" stroke-width="0.07">2017-02-5</text><line x1="375.92" y1="242.40" x2="375.92" y2="245.10" stroke="#000" stroke-width="1.1"/><text transform="translate(377.02,248.40) rotate(-89.9)" font-size="2.85" text-anchor="end" fill="#000" stroke="#000" stroke-width="0.07">2087-02-5</text><line x1="379.43" y1="242.40" x2="379.43" y2="245.10" stroke="#000" stroke-width="1.1"/><text transform="translate(380.53,248.40) rotate(-89.9)" font-size="2.85" text-anchor="end" fill="#000" stroke="#000" stroke-width="0.07">2017-82-5</text><line x1="382.94" y1="242.40" x2="382.94" y2="245.10" stroke="#000" stroke-width="1.1"/><text transform="translate(384.04,248.40) rotate(-89.9)" font-size="2.85" text-anchor="end" fill="#000" stroke="#000" stroke-width="0.07">30171</text><line x1="386.45" y1="242.40" x2="386.45" y2="245.10" stroke="#000" stroke-width="1.1"/><text transform="translate(387.55,248.40) rotate(-89.9)" font-size="2.85" text-anchor="end" fill="#000" stroke="#000" stroke-width="0.07">20171</text><line x1="389.96" y1="242.40" x2="389.96" y2="245.10" stroke="#000" stroke-width="1.1"/><text transform="translate(391.06,248.40) rotate(-89.9)" font-size="2.85" text-anchor="end" fill="#000" stroke="#000" stroke-width="0.07">2017</text><text x="312.40" y="277.30" font-size="5.1" text-anchor="middle" fill="#000" stroke="#000" stroke-width="0.08">Category</text><text transform="translate(211.60,218.90) rotate(-90)" font-size="5.15" text-anchor="middle" fill="#000" stroke="#000" stroke-width="0.1">SSD Scores</text><rect x="301.4" y="197.7" width="20.10" height="4.30" fill="#fff" fill-opacity="0.9" stroke="#c8c8c8" stroke-width="0.5" rx="0.6"/><rect x="302.50" y="199.00" width="5.2" height="1.7" fill="#1f5f98"/><text x="309.80" y="200.95" font-size="3.1" fill="#111" stroke="#111" stroke-width="0.05">Original A</text></g>
</g><text x="2.0" y="6.75" font-size="8.3" font-weight="bold" fill="#000" stroke="#000" stroke-width="0.35" stroke-linejoin="round">A</text><text x="210.0" y="6.75" font-size="8.3" font-weight="bold" fill="#000" stroke="#000" stroke-width="0.35" stroke-linejoin="round">B</text><text x="1.6" y="97.2" font-size="8.3" font-weight="bold" fill="#000" stroke="#000" stroke-width="0.35" stroke-linejoin="round">C</text><text x="212.6" y="97.0" font-size="8.3" font-weight="bold" fill="#000" stroke="#000" stroke-width="0.35" stroke-linejoin="round">D</text><text x="2.0" y="191.75" font-size="8.3" font-weight="bold" fill="#000" stroke="#000" stroke-width="0.35" stroke-linejoin="round">E</text><text x="207.6" y="191.75" font-size="8.3" font-weight="bold" fill="#000" stroke="#000" stroke-width="0.35" stroke-linejoin="round">F</text></svg>
</body></html>
